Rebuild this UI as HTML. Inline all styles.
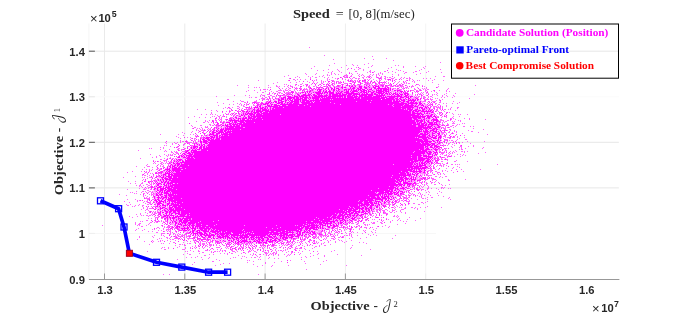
<!DOCTYPE html>
<html><head><meta charset="utf-8"><title>Pareto front</title>
<style>
html,body{margin:0;padding:0;background:#fff}
svg{display:block}
.tk{font-family:"Liberation Sans",sans-serif;font-weight:bold;font-size:11.2px;fill:#262626}
.lg{font-family:"Liberation Serif",serif;font-weight:bold;font-size:11.3px}
.lb{font-family:"Liberation Serif",serif;font-weight:bold;font-size:13.2px;fill:#262626}
.cal{font-family:"DejaVu Math TeX Gyre","DejaVu Serif",serif;font-weight:normal}
.rm{font-weight:normal}
</style></head><body>
<svg width="684" height="315" viewBox="0 0 684 315">
<rect width="684" height="315" fill="#fff"/>
<g stroke-width="1"><line x1="104.5" y1="23.5" x2="104.5" y2="279.0" stroke="#eaeaea"/><line x1="184.8" y1="23.5" x2="184.8" y2="279.0" stroke="#eaeaea"/><line x1="265.1" y1="23.5" x2="265.1" y2="279.0" stroke="#ebebeb"/><line x1="345.4" y1="23.5" x2="345.4" y2="279.0" stroke="#eeeeee"/><line x1="425.7" y1="23.5" x2="425.7" y2="279.0" stroke="#f4f4f4"/><line x1="88.9" y1="233.4" x2="436" y2="233.4" stroke="#f7f7f7"/><line x1="88.9" y1="187.9" x2="618.9" y2="187.9" stroke="#e7e7e7"/><line x1="88.9" y1="142.3" x2="618.9" y2="142.3" stroke="#e7e7e7"/><line x1="88.9" y1="96.8" x2="618.9" y2="96.8" stroke="#fbfbfb"/><line x1="88.9" y1="51.2" x2="618.9" y2="51.2" stroke="#e7e7e7"/></g>
<line x1="88.9" y1="23.5" x2="88.9" y2="279.0" stroke="#f5f5f5" stroke-width="1"/>
<polygon points="153.7,197.6 153.5,194.7 153.7,191.8 154.1,188.9 154.8,186.1 155.8,183.4 156.9,180.8 158.3,178.3 159.8,175.8 161.4,173.5 163.2,171.2 165.1,169.0 167.2,166.9 169.3,164.8 171.5,162.7 173.9,160.7 176.3,158.6 178.7,156.6 181.3,154.5 183.9,152.5 186.6,150.4 189.4,148.3 192.2,146.1 195.1,143.9 198.1,141.6 201.1,139.3 204.3,137.0 207.5,134.6 210.8,132.2 214.2,129.7 217.8,127.3 221.4,124.9 225.1,122.5 228.9,120.2 232.9,117.9 236.9,115.6 241.0,113.5 245.3,111.3 249.6,109.3 253.9,107.3 258.4,105.5 262.9,103.6 267.5,101.9 272.1,100.3 276.7,98.8 281.4,97.3 286.2,96.0 290.9,94.7 295.7,93.6 300.5,92.5 305.2,91.5 310.0,90.6 314.8,89.8 319.5,89.0 324.2,88.3 328.9,87.7 333.6,87.1 338.2,86.6 342.8,86.1 347.3,85.8 351.8,85.4 356.3,85.2 360.7,85.1 365.0,85.0 369.3,85.1 373.5,85.3 377.6,85.6 381.7,86.0 385.7,86.6 389.5,87.3 393.3,88.2 396.9,89.2 400.4,90.3 403.8,91.5 407.1,92.8 410.2,94.2 413.2,95.7 416.1,97.3 418.8,99.0 421.4,100.7 423.8,102.5 426.2,104.4 428.3,106.4 430.4,108.4 432.3,110.6 434.0,112.8 435.5,115.1 436.9,117.5 438.2,119.9 439.2,122.5 440.0,125.1 440.7,127.7 441.1,130.5 441.4,133.2 441.4,136.0 441.2,138.8 440.9,141.7 440.3,144.5 439.6,147.4 438.7,150.3 437.6,153.1 436.4,156.0 434.9,158.8 433.3,161.6 431.6,164.5 429.6,167.3 427.5,170.1 425.3,172.8 422.9,175.6 420.4,178.3 417.7,181.0 414.8,183.6 411.8,186.2 408.7,188.8 405.5,191.3 402.1,193.7 398.6,196.2 395.0,198.5 391.2,200.9 387.4,203.2 383.5,205.4 379.5,207.6 375.4,209.8 371.2,211.9 367.0,214.0 362.6,216.0 358.2,218.0 353.8,220.0 349.2,221.9 344.7,223.8 340.0,225.6 335.3,227.3 330.6,229.0 325.8,230.6 321.0,232.1 316.2,233.6 311.3,235.0 306.4,236.3 301.5,237.5 296.6,238.6 291.6,239.6 286.7,240.5 281.8,241.3 276.9,242.0 272.0,242.6 267.1,243.1 262.3,243.4 257.5,243.7 252.7,243.8 248.0,243.8 243.4,243.6 238.8,243.4 234.3,243.1 229.9,242.7 225.5,242.1 221.3,241.5 217.1,240.9 213.0,240.1 209.0,239.3 205.1,238.4 201.3,237.4 197.6,236.3 194.0,235.2 190.6,234.0 187.2,232.7 183.9,231.3 180.8,229.8 177.7,228.2 174.8,226.5 172.1,224.8 169.4,222.9 166.9,220.9 164.6,218.7 162.4,216.5 160.5,214.1 158.7,211.6 157.2,209.0 155.9,206.3 154.9,203.4 154.1,200.6" fill="#ff00ff"/>
<g transform="translate(0.5,0.5)" stroke-linecap="round" fill="none">
<path d="M347 85h0M352 85h0M353 85h0M355 85h0M356 85h0M357 85h0M358 85h0M360 85h0M361 85h0M364 85h0M367 85h0M370 85h0M373 85h0M377 85h0M337 86h0M340 86h0M341 86h0M345 86h0M350 86h0M353 86h0M354 86h0M358 86h0M362 86h0M365 86h0M366 86h0M367 86h0M369 86h0M370 86h0M372 86h0M379 86h0M380 86h0M381 86h0M329 87h0M331 87h0M335 87h0M336 87h0M337 87h0M338 87h0M339 87h0M340 87h0M343 87h0M346 87h0M351 87h0M352 87h0M355 87h0M356 87h0M357 87h0M358 87h0M363 87h0M367 87h0M368 87h0M370 87h0M371 87h0M372 87h0M382 87h0M384 87h0M389 87h0M391 87h0M320 88h0M340 88h0M341 88h0M345 88h0M346 88h0M347 88h0M348 88h0M349 88h0M351 88h0M355 88h0M359 88h0M362 88h0M364 88h0M367 88h0M368 88h0M369 88h0M370 88h0M376 88h0M387 88h0M389 88h0M392 88h0M316 89h0M322 89h0M323 89h0M324 89h0M329 89h0M332 89h0M335 89h0M336 89h0M340 89h0M341 89h0M342 89h0M343 89h0M347 89h0M350 89h0M352 89h0M354 89h0M357 89h0M361 89h0M368 89h0M373 89h0M374 89h0M375 89h0M377 89h0M379 89h0M382 89h0M389 89h0M393 89h0M396 89h0M313 90h0M321 90h0M324 90h0M325 90h0M330 90h0M331 90h0M332 90h0M337 90h0M339 90h0M340 90h0M341 90h0M342 90h0M343 90h0M345 90h0M347 90h0M350 90h0M352 90h0M357 90h0M362 90h0M369 90h0M370 90h0M371 90h0M373 90h0M374 90h0M382 90h0M387 90h0M389 90h0M392 90h0M396 90h0M305 91h0M308 91h0M311 91h0M312 91h0M313 91h0M314 91h0M315 91h0M316 91h0M317 91h0M321 91h0M322 91h0M324 91h0M332 91h0M334 91h0M335 91h0M336 91h0M338 91h0M340 91h0M343 91h0M344 91h0M345 91h0M351 91h0M359 91h0M360 91h0M367 91h0M371 91h0M372 91h0M375 91h0M377 91h0M384 91h0M389 91h0M391 91h0M392 91h0M393 91h0M394 91h0M395 91h0M398 91h0M399 91h0M404 91h0M304 92h0M310 92h0M311 92h0M312 92h0M314 92h0M323 92h0M328 92h0M335 92h0M337 92h0M339 92h0M342 92h0M343 92h0M349 92h0M350 92h0M354 92h0M356 92h0M357 92h0M359 92h0M362 92h0M367 92h0M370 92h0M374 92h0M375 92h0M382 92h0M385 92h0M389 92h0M391 92h0M393 92h0M396 92h0M397 92h0M398 92h0M399 92h0M400 92h0M404 92h0M297 93h0M298 93h0M299 93h0M302 93h0M306 93h0M309 93h0M310 93h0M314 93h0M315 93h0M323 93h0M325 93h0M326 93h0M334 93h0M335 93h0M341 93h0M343 93h0M344 93h0M345 93h0M358 93h0M360 93h0M361 93h0M363 93h0M369 93h0M370 93h0M373 93h0M376 93h0M377 93h0M388 93h0M396 93h0M400 93h0M401 93h0M402 93h0M403 93h0M292 94h0M295 94h0M299 94h0M302 94h0M306 94h0M307 94h0M312 94h0M315 94h0M316 94h0M320 94h0M323 94h0M324 94h0M325 94h0M327 94h0M328 94h0M331 94h0M338 94h0M341 94h0M347 94h0M352 94h0M360 94h0M373 94h0M378 94h0M383 94h0M385 94h0M386 94h0M388 94h0M410 94h0M295 95h0M296 95h0M297 95h0M310 95h0M317 95h0M323 95h0M328 95h0M331 95h0M346 95h0M351 95h0M355 95h0M367 95h0M373 95h0M375 95h0M385 95h0M386 95h0M387 95h0M388 95h0M389 95h0M392 95h0M393 95h0M395 95h0M396 95h0M400 95h0M402 95h0M403 95h0M408 95h0M409 95h0M411 95h0M412 95h0M291 96h0M292 96h0M293 96h0M298 96h0M304 96h0M307 96h0M308 96h0M310 96h0M311 96h0M313 96h0M327 96h0M343 96h0M346 96h0M353 96h0M358 96h0M363 96h0M372 96h0M382 96h0M386 96h0M402 96h0M403 96h0M407 96h0M409 96h0M282 97h0M295 97h0M299 97h0M301 97h0M308 97h0M311 97h0M320 97h0M323 97h0M325 97h0M331 97h0M336 97h0M338 97h0M341 97h0M343 97h0M357 97h0M360 97h0M380 97h0M387 97h0M388 97h0M395 97h0M396 97h0M398 97h0M404 97h0M405 97h0M411 97h0M413 97h0M414 97h0M279 98h0M280 98h0M284 98h0M292 98h0M295 98h0M299 98h0M307 98h0M309 98h0M311 98h0M319 98h0M321 98h0M354 98h0M360 98h0M394 98h0M401 98h0M402 98h0M403 98h0M410 98h0M411 98h0M412 98h0M413 98h0M414 98h0M415 98h0M276 99h0M277 99h0M280 99h0M284 99h0M286 99h0M288 99h0M293 99h0M301 99h0M308 99h0M310 99h0M311 99h0M312 99h0M314 99h0M319 99h0M330 99h0M332 99h0M395 99h0M399 99h0M402 99h0M405 99h0M407 99h0M409 99h0M411 99h0M414 99h0M419 99h0M271 100h0M274 100h0M275 100h0M284 100h0M287 100h0M299 100h0M301 100h0M309 100h0M367 100h0M371 100h0M392 100h0M395 100h0M398 100h0M405 100h0M407 100h0M418 100h0M420 100h0M279 101h0M280 101h0M284 101h0M286 101h0M290 101h0M299 101h0M301 101h0M305 101h0M312 101h0M314 101h0M320 101h0M356 101h0M392 101h0M401 101h0M402 101h0M405 101h0M409 101h0M410 101h0M412 101h0M416 101h0M418 101h0M419 101h0M421 101h0M267 102h0M270 102h0M272 102h0M286 102h0M289 102h0M293 102h0M299 102h0M300 102h0M310 102h0M330 102h0M370 102h0M399 102h0M400 102h0M404 102h0M405 102h0M406 102h0M409 102h0M414 102h0M417 102h0M418 102h0M422 102h0M264 103h0M271 103h0M272 103h0M276 103h0M280 103h0M283 103h0M285 103h0M286 103h0M288 103h0M292 103h0M299 103h0M301 103h0M334 103h0M407 103h0M423 103h0M260 104h0M262 104h0M266 104h0M268 104h0M269 104h0M270 104h0M273 104h0M278 104h0M307 104h0M340 104h0M388 104h0M393 104h0M404 104h0M410 104h0M413 104h0M414 104h0M415 104h0M418 104h0M421 104h0M424 104h0M425 104h0M258 105h0M259 105h0M261 105h0M262 105h0M265 105h0M270 105h0M273 105h0M280 105h0M286 105h0M287 105h0M298 105h0M304 105h0M392 105h0M403 105h0M414 105h0M416 105h0M417 105h0M419 105h0M420 105h0M425 105h0M426 105h0M255 106h0M256 106h0M262 106h0M264 106h0M267 106h0M278 106h0M310 106h0M393 106h0M401 106h0M413 106h0M418 106h0M420 106h0M421 106h0M424 106h0M426 106h0M428 106h0M258 107h0M259 107h0M261 107h0M264 107h0M266 107h0M269 107h0M271 107h0M272 107h0M283 107h0M414 107h0M415 107h0M416 107h0M418 107h0M424 107h0M427 107h0M429 107h0M252 108h0M256 108h0M257 108h0M259 108h0M263 108h0M266 108h0M269 108h0M271 108h0M274 108h0M401 108h0M406 108h0M411 108h0M413 108h0M414 108h0M415 108h0M416 108h0M423 108h0M425 108h0M427 108h0M428 108h0M250 109h0M251 109h0M252 109h0M255 109h0M256 109h0M259 109h0M261 109h0M267 109h0M269 109h0M271 109h0M404 109h0M406 109h0M414 109h0M418 109h0M419 109h0M420 109h0M425 109h0M426 109h0M427 109h0M428 109h0M430 109h0M431 109h0M246 110h0M248 110h0M249 110h0M250 110h0M251 110h0M253 110h0M255 110h0M261 110h0M269 110h0M408 110h0M412 110h0M417 110h0M421 110h0M424 110h0M425 110h0M429 110h0M245 111h0M248 111h0M250 111h0M253 111h0M263 111h0M264 111h0M411 111h0M414 111h0M419 111h0M420 111h0M431 111h0M244 112h0M245 112h0M247 112h0M250 112h0M252 112h0M259 112h0M268 112h0M411 112h0M415 112h0M416 112h0M418 112h0M419 112h0M421 112h0M422 112h0M423 112h0M426 112h0M428 112h0M429 112h0M430 112h0M241 113h0M242 113h0M244 113h0M246 113h0M253 113h0M256 113h0M260 113h0M411 113h0M422 113h0M425 113h0M428 113h0M430 113h0M431 113h0M433 113h0M434 113h0M242 114h0M244 114h0M262 114h0M280 114h0M415 114h0M416 114h0M420 114h0M425 114h0M427 114h0M428 114h0M429 114h0M430 114h0M433 114h0M434 114h0M238 115h0M239 115h0M240 115h0M243 115h0M245 115h0M246 115h0M249 115h0M252 115h0M255 115h0M419 115h0M423 115h0M424 115h0M425 115h0M429 115h0M432 115h0M235 116h0M236 116h0M238 116h0M243 116h0M245 116h0M247 116h0M250 116h0M411 116h0M233 117h0M234 117h0M238 117h0M240 117h0M241 117h0M242 117h0M244 117h0M252 117h0M256 117h0M261 117h0M421 117h0M426 117h0M430 117h0M431 117h0M232 118h0M235 118h0M237 118h0M241 118h0M247 118h0M255 118h0M412 118h0M417 118h0M421 118h0M422 118h0M423 118h0M425 118h0M427 118h0M430 118h0M434 118h0M435 118h0M232 119h0M233 119h0M235 119h0M237 119h0M241 119h0M246 119h0M249 119h0M251 119h0M262 119h0M412 119h0M413 119h0M418 119h0M419 119h0M420 119h0M422 119h0M425 119h0M426 119h0M427 119h0M428 119h0M429 119h0M431 119h0M239 120h0M415 120h0M423 120h0M427 120h0M429 120h0M432 120h0M227 121h0M228 121h0M229 121h0M231 121h0M237 121h0M244 121h0M415 121h0M419 121h0M423 121h0M425 121h0M429 121h0M431 121h0M432 121h0M225 122h0M231 122h0M233 122h0M237 122h0M239 122h0M245 122h0M254 122h0M416 122h0M418 122h0M423 122h0M426 122h0M427 122h0M433 122h0M437 122h0M438 122h0M225 123h0M232 123h0M234 123h0M236 123h0M242 123h0M416 123h0M420 123h0M425 123h0M427 123h0M433 123h0M435 123h0M437 123h0M438 123h0M222 124h0M223 124h0M228 124h0M231 124h0M238 124h0M412 124h0M420 124h0M424 124h0M427 124h0M438 124h0M224 125h0M228 125h0M229 125h0M235 125h0M240 125h0M416 125h0M417 125h0M427 125h0M429 125h0M430 125h0M433 125h0M434 125h0M435 125h0M436 125h0M439 125h0M219 126h0M224 126h0M225 126h0M240 126h0M416 126h0M417 126h0M424 126h0M432 126h0M433 126h0M435 126h0M436 126h0M437 126h0M218 127h0M220 127h0M221 127h0M223 127h0M224 127h0M226 127h0M228 127h0M234 127h0M243 127h0M244 127h0M434 127h0M436 127h0M440 127h0M217 128h0M219 128h0M222 128h0M224 128h0M422 128h0M428 128h0M432 128h0M438 128h0M439 128h0M218 129h0M224 129h0M240 129h0M423 129h0M424 129h0M427 129h0M430 129h0M431 129h0M435 129h0M438 129h0M439 129h0M440 129h0M213 130h0M215 130h0M217 130h0M219 130h0M223 130h0M227 130h0M229 130h0M231 130h0M420 130h0M424 130h0M429 130h0M434 130h0M435 130h0M439 130h0M214 131h0M218 131h0M223 131h0M226 131h0M422 131h0M429 131h0M431 131h0M432 131h0M437 131h0M440 131h0M211 132h0M216 132h0M217 132h0M231 132h0M420 132h0M421 132h0M422 132h0M423 132h0M428 132h0M430 132h0M431 132h0M433 132h0M434 132h0M438 132h0M208 133h0M209 133h0M211 133h0M214 133h0M222 133h0M228 133h0M423 133h0M426 133h0M429 133h0M430 133h0M431 133h0M435 133h0M214 134h0M215 134h0M218 134h0M219 134h0M418 134h0M430 134h0M431 134h0M433 134h0M435 134h0M436 134h0M207 135h0M208 135h0M210 135h0M211 135h0M212 135h0M221 135h0M223 135h0M228 135h0M420 135h0M421 135h0M426 135h0M427 135h0M430 135h0M431 135h0M437 135h0M439 135h0M204 136h0M205 136h0M206 136h0M207 136h0M213 136h0M215 136h0M218 136h0M220 136h0M426 136h0M428 136h0M431 136h0M434 136h0M438 136h0M205 137h0M210 137h0M215 137h0M218 137h0M415 137h0M429 137h0M430 137h0M436 137h0M202 138h0M204 138h0M209 138h0M212 138h0M214 138h0M215 138h0M220 138h0M419 138h0M420 138h0M421 138h0M431 138h0M439 138h0M206 139h0M210 139h0M214 139h0M220 139h0M422 139h0M428 139h0M429 139h0M430 139h0M432 139h0M435 139h0M437 139h0M439 139h0M440 139h0M199 140h0M207 140h0M423 140h0M428 140h0M429 140h0M430 140h0M434 140h0M435 140h0M199 141h0M202 141h0M208 141h0M209 141h0M416 141h0M435 141h0M438 141h0M440 141h0M197 142h0M202 142h0M207 142h0M420 142h0M424 142h0M428 142h0M431 142h0M434 142h0M436 142h0M438 142h0M195 143h0M197 143h0M198 143h0M200 143h0M204 143h0M421 143h0M429 143h0M430 143h0M435 143h0M436 143h0M196 144h0M198 144h0M200 144h0M202 144h0M206 144h0M207 144h0M431 144h0M436 144h0M438 144h0M439 144h0M193 145h0M195 145h0M196 145h0M197 145h0M198 145h0M200 145h0M205 145h0M206 145h0M426 145h0M430 145h0M433 145h0M437 145h0M438 145h0M191 146h0M192 146h0M202 146h0M205 146h0M207 146h0M428 146h0M432 146h0M192 147h0M196 147h0M202 147h0M205 147h0M424 147h0M426 147h0M428 147h0M429 147h0M433 147h0M435 147h0M438 147h0M439 147h0M190 148h0M192 148h0M195 148h0M424 148h0M425 148h0M432 148h0M434 148h0M436 148h0M190 149h0M193 149h0M194 149h0M196 149h0M200 149h0M419 149h0M424 149h0M430 149h0M432 149h0M433 149h0M438 149h0M186 150h0M189 150h0M198 150h0M199 150h0M200 150h0M207 150h0M421 150h0M427 150h0M428 150h0M429 150h0M430 150h0M431 150h0M432 150h0M437 150h0M188 151h0M190 151h0M192 151h0M414 151h0M427 151h0M431 151h0M432 151h0M434 151h0M184 152h0M190 152h0M413 152h0M425 152h0M428 152h0M433 152h0M185 153h0M186 153h0M191 153h0M193 153h0M425 153h0M426 153h0M431 153h0M434 153h0M181 154h0M186 154h0M188 154h0M193 154h0M421 154h0M422 154h0M424 154h0M425 154h0M426 154h0M427 154h0M431 154h0M434 154h0M182 155h0M184 155h0M185 155h0M192 155h0M411 155h0M422 155h0M429 155h0M433 155h0M435 155h0M183 156h0M187 156h0M417 156h0M421 156h0M434 156h0M181 157h0M182 157h0M186 157h0M190 157h0M193 157h0M411 157h0M417 157h0M423 157h0M424 157h0M425 157h0M427 157h0M432 157h0M433 157h0M434 157h0M176 158h0M180 158h0M182 158h0M183 158h0M184 158h0M185 158h0M194 158h0M417 158h0M429 158h0M435 158h0M174 159h0M177 159h0M182 159h0M184 159h0M417 159h0M425 159h0M426 159h0M433 159h0M434 159h0M175 160h0M176 160h0M178 160h0M181 160h0M183 160h0M413 160h0M424 160h0M425 160h0M429 160h0M433 160h0M434 160h0M173 161h0M175 161h0M177 161h0M179 161h0M180 161h0M184 161h0M410 161h0M418 161h0M419 161h0M421 161h0M423 161h0M424 161h0M431 161h0M432 161h0M172 162h0M175 162h0M176 162h0M178 162h0M179 162h0M414 162h0M416 162h0M417 162h0M418 162h0M420 162h0M423 162h0M426 162h0M429 162h0M430 162h0M175 163h0M180 163h0M182 163h0M183 163h0M413 163h0M415 163h0M418 163h0M420 163h0M425 163h0M427 163h0M428 163h0M170 164h0M172 164h0M173 164h0M174 164h0M176 164h0M180 164h0M393 164h0M413 164h0M416 164h0M418 164h0M421 164h0M426 164h0M427 164h0M428 164h0M429 164h0M430 164h0M171 165h0M173 165h0M176 165h0M179 165h0M188 165h0M412 165h0M414 165h0M415 165h0M418 165h0M427 165h0M428 165h0M429 165h0M168 166h0M175 166h0M176 166h0M178 166h0M422 166h0M424 166h0M427 166h0M428 166h0M166 167h0M169 167h0M171 167h0M173 167h0M180 167h0M181 167h0M413 167h0M419 167h0M421 167h0M166 168h0M168 168h0M170 168h0M171 168h0M185 168h0M407 168h0M410 168h0M426 168h0M427 168h0M170 169h0M171 169h0M181 169h0M182 169h0M413 169h0M415 169h0M417 169h0M420 169h0M422 169h0M423 169h0M426 169h0M165 170h0M166 170h0M168 170h0M171 170h0M412 170h0M418 170h0M421 170h0M422 170h0M423 170h0M163 171h0M164 171h0M167 171h0M172 171h0M174 171h0M180 171h0M401 171h0M409 171h0M422 171h0M423 171h0M162 172h0M163 172h0M166 172h0M168 172h0M171 172h0M173 172h0M174 172h0M175 172h0M405 172h0M409 172h0M410 172h0M412 172h0M415 172h0M417 172h0M421 172h0M422 172h0M163 173h0M164 173h0M172 173h0M399 173h0M406 173h0M409 173h0M416 173h0M420 173h0M421 173h0M422 173h0M423 173h0M161 174h0M162 174h0M166 174h0M173 174h0M406 174h0M411 174h0M420 174h0M422 174h0M162 175h0M164 175h0M166 175h0M392 175h0M411 175h0M415 175h0M417 175h0M418 175h0M421 175h0M422 175h0M162 176h0M164 176h0M165 176h0M172 176h0M400 176h0M402 176h0M408 176h0M410 176h0M412 176h0M417 176h0M159 177h0M160 177h0M164 177h0M166 177h0M177 177h0M391 177h0M404 177h0M408 177h0M409 177h0M410 177h0M412 177h0M414 177h0M416 177h0M417 177h0M418 177h0M419 177h0M420 177h0M161 178h0M168 178h0M399 178h0M403 178h0M409 178h0M416 178h0M417 178h0M419 178h0M157 179h0M161 179h0M171 179h0M395 179h0M408 179h0M410 179h0M416 179h0M417 179h0M418 179h0M157 180h0M159 180h0M161 180h0M162 180h0M164 180h0M165 180h0M167 180h0M168 180h0M396 180h0M400 180h0M404 180h0M406 180h0M407 180h0M408 180h0M409 180h0M410 180h0M412 180h0M413 180h0M415 180h0M159 181h0M160 181h0M162 181h0M164 181h0M167 181h0M169 181h0M170 181h0M398 181h0M404 181h0M406 181h0M407 181h0M410 181h0M412 181h0M413 181h0M414 181h0M415 181h0M159 182h0M163 182h0M166 182h0M169 182h0M395 182h0M399 182h0M408 182h0M409 182h0M410 182h0M411 182h0M412 182h0M155 183h0M157 183h0M161 183h0M163 183h0M165 183h0M166 183h0M174 183h0M177 183h0M401 183h0M412 183h0M155 184h0M156 184h0M159 184h0M160 184h0M167 184h0M169 184h0M171 184h0M403 184h0M405 184h0M411 184h0M155 185h0M156 185h0M160 185h0M167 185h0M169 185h0M398 185h0M408 185h0M410 185h0M411 185h0M155 186h0M158 186h0M164 186h0M165 186h0M167 186h0M173 186h0M389 186h0M394 186h0M395 186h0M397 186h0M399 186h0M402 186h0M403 186h0M404 186h0M406 186h0M407 186h0M411 186h0M155 187h0M161 187h0M162 187h0M170 187h0M398 187h0M400 187h0M401 187h0M404 187h0M408 187h0M410 187h0M156 188h0M158 188h0M172 188h0M378 188h0M394 188h0M398 188h0M399 188h0M406 188h0M409 188h0M155 189h0M156 189h0M158 189h0M159 189h0M167 189h0M176 189h0M388 189h0M393 189h0M394 189h0M396 189h0M399 189h0M400 189h0M401 189h0M402 189h0M404 189h0M154 190h0M155 190h0M159 190h0M163 190h0M166 190h0M371 190h0M390 190h0M396 190h0M397 190h0M398 190h0M400 190h0M401 190h0M403 190h0M154 191h0M155 191h0M161 191h0M165 191h0M170 191h0M393 191h0M394 191h0M399 191h0M155 192h0M158 192h0M160 192h0M163 192h0M168 192h0M169 192h0M171 192h0M375 192h0M378 192h0M392 192h0M396 192h0M400 192h0M401 192h0M154 193h0M155 193h0M157 193h0M159 193h0M160 193h0M163 193h0M169 193h0M171 193h0M376 193h0M377 193h0M384 193h0M386 193h0M393 193h0M395 193h0M398 193h0M402 193h0M154 194h0M155 194h0M164 194h0M165 194h0M167 194h0M174 194h0M176 194h0M381 194h0M383 194h0M387 194h0M392 194h0M397 194h0M155 195h0M159 195h0M161 195h0M162 195h0M167 195h0M368 195h0M379 195h0M383 195h0M385 195h0M387 195h0M389 195h0M390 195h0M391 195h0M392 195h0M393 195h0M155 196h0M163 196h0M164 196h0M167 196h0M168 196h0M172 196h0M375 196h0M376 196h0M379 196h0M380 196h0M383 196h0M389 196h0M391 196h0M393 196h0M395 196h0M155 197h0M156 197h0M160 197h0M162 197h0M167 197h0M169 197h0M370 197h0M376 197h0M389 197h0M394 197h0M396 197h0M153 198h0M155 198h0M157 198h0M159 198h0M161 198h0M164 198h0M165 198h0M181 198h0M381 198h0M387 198h0M391 198h0M392 198h0M394 198h0M154 199h0M156 199h0M159 199h0M161 199h0M163 199h0M166 199h0M173 199h0M366 199h0M373 199h0M374 199h0M383 199h0M384 199h0M392 199h0M393 199h0M160 200h0M167 200h0M359 200h0M374 200h0M376 200h0M377 200h0M379 200h0M380 200h0M389 200h0M154 201h0M155 201h0M164 201h0M168 201h0M170 201h0M176 201h0M358 201h0M363 201h0M368 201h0M372 201h0M373 201h0M374 201h0M380 201h0M381 201h0M387 201h0M388 201h0M157 202h0M164 202h0M166 202h0M168 202h0M171 202h0M173 202h0M182 202h0M362 202h0M363 202h0M373 202h0M375 202h0M379 202h0M381 202h0M383 202h0M387 202h0M155 203h0M156 203h0M162 203h0M163 203h0M165 203h0M166 203h0M170 203h0M174 203h0M176 203h0M363 203h0M373 203h0M377 203h0M382 203h0M383 203h0M385 203h0M386 203h0M387 203h0M165 204h0M166 204h0M169 204h0M170 204h0M179 204h0M358 204h0M360 204h0M375 204h0M376 204h0M377 204h0M382 204h0M383 204h0M384 204h0M158 205h0M159 205h0M166 205h0M172 205h0M358 205h0M365 205h0M369 205h0M374 205h0M376 205h0M378 205h0M382 205h0M158 206h0M160 206h0M161 206h0M162 206h0M163 206h0M164 206h0M167 206h0M170 206h0M177 206h0M349 206h0M360 206h0M362 206h0M363 206h0M366 206h0M369 206h0M372 206h0M374 206h0M375 206h0M378 206h0M379 206h0M156 207h0M157 207h0M158 207h0M159 207h0M165 207h0M167 207h0M168 207h0M181 207h0M350 207h0M353 207h0M360 207h0M361 207h0M364 207h0M367 207h0M368 207h0M372 207h0M373 207h0M374 207h0M159 208h0M163 208h0M164 208h0M167 208h0M168 208h0M172 208h0M174 208h0M348 208h0M354 208h0M364 208h0M369 208h0M372 208h0M373 208h0M377 208h0M159 209h0M163 209h0M165 209h0M166 209h0M168 209h0M174 209h0M184 209h0M339 209h0M352 209h0M360 209h0M363 209h0M364 209h0M367 209h0M372 209h0M375 209h0M159 210h0M160 210h0M163 210h0M166 210h0M167 210h0M169 210h0M343 210h0M356 210h0M358 210h0M360 210h0M364 210h0M365 210h0M367 210h0M372 210h0M373 210h0M161 211h0M162 211h0M164 211h0M168 211h0M172 211h0M176 211h0M180 211h0M345 211h0M351 211h0M352 211h0M360 211h0M361 211h0M365 211h0M368 211h0M370 211h0M159 212h0M165 212h0M168 212h0M171 212h0M172 212h0M176 212h0M177 212h0M180 212h0M347 212h0M350 212h0M357 212h0M360 212h0M369 212h0M162 213h0M167 213h0M170 213h0M173 213h0M174 213h0M180 213h0M189 213h0M335 213h0M338 213h0M341 213h0M344 213h0M347 213h0M353 213h0M358 213h0M361 213h0M363 213h0M368 213h0M164 214h0M168 214h0M170 214h0M176 214h0M186 214h0M337 214h0M338 214h0M343 214h0M351 214h0M352 214h0M353 214h0M355 214h0M356 214h0M360 214h0M163 215h0M169 215h0M174 215h0M175 215h0M176 215h0M179 215h0M185 215h0M186 215h0M189 215h0M332 215h0M337 215h0M345 215h0M348 215h0M351 215h0M355 215h0M358 215h0M362 215h0M363 215h0M166 216h0M168 216h0M171 216h0M331 216h0M336 216h0M341 216h0M344 216h0M349 216h0M351 216h0M352 216h0M354 216h0M355 216h0M357 216h0M358 216h0M360 216h0M163 217h0M164 217h0M165 217h0M168 217h0M171 217h0M177 217h0M179 217h0M180 217h0M181 217h0M182 217h0M185 217h0M316 217h0M327 217h0M330 217h0M340 217h0M341 217h0M344 217h0M350 217h0M351 217h0M356 217h0M357 217h0M358 217h0M164 218h0M166 218h0M168 218h0M169 218h0M171 218h0M175 218h0M176 218h0M177 218h0M181 218h0M191 218h0M318 218h0M332 218h0M336 218h0M346 218h0M348 218h0M350 218h0M356 218h0M165 219h0M168 219h0M174 219h0M175 219h0M177 219h0M179 219h0M188 219h0M191 219h0M314 219h0M323 219h0M332 219h0M334 219h0M335 219h0M337 219h0M338 219h0M340 219h0M341 219h0M345 219h0M346 219h0M347 219h0M350 219h0M166 220h0M170 220h0M174 220h0M175 220h0M177 220h0M178 220h0M182 220h0M218 220h0M319 220h0M330 220h0M331 220h0M332 220h0M334 220h0M338 220h0M339 220h0M343 220h0M346 220h0M348 220h0M349 220h0M170 221h0M173 221h0M176 221h0M177 221h0M178 221h0M182 221h0M188 221h0M189 221h0M200 221h0M213 221h0M306 221h0M311 221h0M312 221h0M321 221h0M335 221h0M336 221h0M339 221h0M341 221h0M342 221h0M346 221h0M347 221h0M350 221h0M168 222h0M169 222h0M173 222h0M174 222h0M177 222h0M178 222h0M187 222h0M198 222h0M325 222h0M328 222h0M329 222h0M332 222h0M336 222h0M337 222h0M339 222h0M344 222h0M346 222h0M347 222h0M170 223h0M171 223h0M172 223h0M173 223h0M177 223h0M179 223h0M181 223h0M183 223h0M186 223h0M187 223h0M195 223h0M306 223h0M314 223h0M316 223h0M318 223h0M322 223h0M332 223h0M333 223h0M334 223h0M336 223h0M337 223h0M339 223h0M344 223h0M172 224h0M174 224h0M177 224h0M182 224h0M183 224h0M184 224h0M186 224h0M188 224h0M191 224h0M194 224h0M195 224h0M201 224h0M216 224h0M303 224h0M308 224h0M310 224h0M315 224h0M317 224h0M318 224h0M323 224h0M324 224h0M326 224h0M328 224h0M329 224h0M332 224h0M334 224h0M340 224h0M341 224h0M172 225h0M173 225h0M174 225h0M176 225h0M180 225h0M182 225h0M187 225h0M190 225h0M195 225h0M206 225h0M207 225h0M214 225h0M244 225h0M276 225h0M295 225h0M297 225h0M305 225h0M306 225h0M321 225h0M332 225h0M335 225h0M338 225h0M180 226h0M181 226h0M182 226h0M184 226h0M185 226h0M190 226h0M191 226h0M201 226h0M302 226h0M310 226h0M315 226h0M323 226h0M325 226h0M326 226h0M330 226h0M332 226h0M176 227h0M178 227h0M180 227h0M181 227h0M182 227h0M183 227h0M185 227h0M186 227h0M189 227h0M194 227h0M196 227h0M198 227h0M205 227h0M209 227h0M266 227h0M280 227h0M304 227h0M309 227h0M319 227h0M321 227h0M323 227h0M324 227h0M327 227h0M330 227h0M331 227h0M335 227h0M179 228h0M180 228h0M190 228h0M196 228h0M198 228h0M211 228h0M272 228h0M277 228h0M303 228h0M304 228h0M315 228h0M319 228h0M321 228h0M324 228h0M327 228h0M328 228h0M329 228h0M180 229h0M181 229h0M183 229h0M185 229h0M188 229h0M190 229h0M198 229h0M199 229h0M203 229h0M207 229h0M210 229h0M212 229h0M215 229h0M243 229h0M297 229h0M302 229h0M303 229h0M304 229h0M321 229h0M322 229h0M324 229h0M325 229h0M187 230h0M189 230h0M190 230h0M195 230h0M196 230h0M200 230h0M207 230h0M209 230h0M210 230h0M214 230h0M218 230h0M242 230h0M302 230h0M303 230h0M305 230h0M307 230h0M310 230h0M311 230h0M312 230h0M315 230h0M316 230h0M317 230h0M318 230h0M319 230h0M320 230h0M321 230h0M185 231h0M187 231h0M191 231h0M194 231h0M195 231h0M200 231h0M202 231h0M221 231h0M226 231h0M244 231h0M252 231h0M269 231h0M270 231h0M274 231h0M275 231h0M281 231h0M288 231h0M291 231h0M293 231h0M294 231h0M295 231h0M301 231h0M303 231h0M306 231h0M310 231h0M313 231h0M315 231h0M318 231h0M319 231h0M320 231h0M322 231h0M188 232h0M195 232h0M196 232h0M203 232h0M206 232h0M207 232h0M208 232h0M210 232h0M211 232h0M216 232h0M219 232h0M221 232h0M224 232h0M231 232h0M247 232h0M249 232h0M278 232h0M279 232h0M285 232h0M294 232h0M295 232h0M296 232h0M298 232h0M305 232h0M309 232h0M315 232h0M316 232h0M317 232h0M318 232h0M320 232h0M192 233h0M198 233h0M207 233h0M211 233h0M214 233h0M218 233h0M231 233h0M242 233h0M244 233h0M246 233h0M251 233h0M269 233h0M272 233h0M288 233h0M290 233h0M293 233h0M294 233h0M295 233h0M298 233h0M303 233h0M304 233h0M305 233h0M306 233h0M307 233h0M308 233h0M312 233h0M316 233h0M198 234h0M199 234h0M205 234h0M208 234h0M210 234h0M214 234h0M216 234h0M219 234h0M225 234h0M229 234h0M241 234h0M244 234h0M268 234h0M282 234h0M295 234h0M303 234h0M310 234h0M196 235h0M197 235h0M203 235h0M216 235h0M218 235h0M220 235h0M224 235h0M228 235h0M266 235h0M270 235h0M273 235h0M274 235h0M278 235h0M285 235h0M293 235h0M295 235h0M296 235h0M300 235h0M305 235h0M306 235h0M308 235h0M206 236h0M211 236h0M214 236h0M215 236h0M216 236h0M221 236h0M230 236h0M232 236h0M235 236h0M236 236h0M238 236h0M239 236h0M243 236h0M249 236h0M257 236h0M259 236h0M265 236h0M266 236h0M267 236h0M276 236h0M278 236h0M279 236h0M282 236h0M285 236h0M287 236h0M289 236h0M290 236h0M294 236h0M299 236h0M301 236h0M302 236h0M305 236h0M201 237h0M205 237h0M206 237h0M207 237h0M212 237h0M215 237h0M217 237h0M224 237h0M226 237h0M230 237h0M233 237h0M238 237h0M254 237h0M268 237h0M273 237h0M275 237h0M277 237h0M278 237h0M279 237h0M281 237h0M288 237h0M296 237h0M297 237h0M205 238h0M218 238h0M219 238h0M221 238h0M224 238h0M228 238h0M231 238h0M234 238h0M235 238h0M239 238h0M241 238h0M247 238h0M250 238h0M252 238h0M257 238h0M260 238h0M264 238h0M265 238h0M266 238h0M270 238h0M271 238h0M274 238h0M278 238h0M279 238h0M281 238h0M284 238h0M289 238h0M290 238h0M292 238h0M296 238h0M208 239h0M212 239h0M214 239h0M218 239h0M219 239h0M221 239h0M224 239h0M229 239h0M230 239h0M231 239h0M235 239h0M237 239h0M239 239h0M242 239h0M243 239h0M245 239h0M247 239h0M248 239h0M250 239h0M254 239h0M256 239h0M257 239h0M261 239h0M264 239h0M265 239h0M266 239h0M269 239h0M276 239h0M277 239h0M280 239h0M281 239h0M282 239h0M286 239h0M290 239h0M213 240h0M214 240h0M216 240h0M217 240h0M219 240h0M222 240h0M224 240h0M225 240h0M230 240h0M234 240h0M236 240h0M241 240h0M247 240h0M249 240h0M250 240h0M252 240h0M253 240h0M255 240h0M258 240h0M260 240h0M264 240h0M265 240h0M268 240h0M269 240h0M271 240h0M278 240h0M281 240h0M282 240h0M284 240h0M288 240h0M221 241h0M223 241h0M228 241h0M229 241h0M233 241h0M236 241h0M240 241h0M248 241h0M251 241h0M256 241h0M260 241h0M261 241h0M263 241h0M264 241h0M265 241h0M267 241h0M273 241h0M274 241h0M280 241h0M228 242h0M239 242h0M242 242h0M243 242h0M245 242h0M246 242h0M247 242h0M249 242h0M251 242h0M257 242h0M262 242h0M272 242h0M273 242h0M274 242h0M235 243h0M237 243h0M240 243h0M245 243h0M247 243h0M248 243h0M250 243h0M253 243h0M264 243h0" stroke="#fff" stroke-width="1.1" stroke-opacity="0.7"/>
<path d="M359 85h0M362 85h0M363 85h0M365 85h0M368 85h0M371 85h0M376 85h0M343 86h0M344 86h0M346 86h0M347 86h0M348 86h0M356 86h0M357 86h0M363 86h0M371 86h0M374 86h0M384 86h0M332 87h0M333 87h0M347 87h0M348 87h0M349 87h0M362 87h0M376 87h0M377 87h0M380 87h0M381 87h0M383 87h0M386 87h0M324 88h0M325 88h0M327 88h0M329 88h0M330 88h0M333 88h0M335 88h0M339 88h0M343 88h0M344 88h0M356 88h0M363 88h0M372 88h0M373 88h0M391 88h0M326 89h0M327 89h0M330 89h0M337 89h0M355 89h0M365 89h0M366 89h0M372 89h0M391 89h0M394 89h0M395 89h0M397 89h0M311 90h0M314 90h0M315 90h0M316 90h0M318 90h0M322 90h0M327 90h0M328 90h0M335 90h0M349 90h0M359 90h0M367 90h0M375 90h0M391 90h0M393 90h0M327 91h0M331 91h0M349 91h0M358 91h0M365 91h0M390 91h0M396 91h0M403 91h0M306 92h0M308 92h0M321 92h0M334 92h0M355 92h0M369 92h0M387 92h0M392 92h0M394 92h0M402 92h0M301 93h0M303 93h0M304 93h0M307 93h0M312 93h0M313 93h0M328 93h0M365 93h0M368 93h0M384 93h0M390 93h0M392 93h0M398 93h0M293 94h0M294 94h0M296 94h0M300 94h0M301 94h0M311 94h0M322 94h0M380 94h0M391 94h0M394 94h0M399 94h0M403 94h0M406 94h0M409 94h0M289 95h0M290 95h0M291 95h0M293 95h0M300 95h0M312 95h0M357 95h0M358 95h0M374 95h0M390 95h0M404 95h0M410 95h0M286 96h0M384 96h0M413 96h0M286 97h0M287 97h0M346 97h0M399 97h0M409 97h0M412 97h0M286 98h0M303 98h0M385 98h0M398 98h0M404 98h0M406 98h0M407 98h0M275 99h0M291 99h0M307 99h0M381 99h0M416 99h0M272 100h0M273 100h0M276 100h0M277 100h0M282 100h0M283 100h0M289 100h0M293 100h0M400 100h0M406 100h0M416 100h0M419 100h0M271 101h0M272 101h0M273 101h0M277 101h0M287 101h0M288 101h0M415 101h0M417 101h0M274 102h0M277 102h0M283 102h0M284 102h0M313 102h0M421 102h0M423 102h0M269 103h0M273 103h0M274 103h0M275 103h0M300 103h0M418 103h0M422 103h0M277 104h0M279 104h0M409 104h0M417 104h0M423 104h0M263 105h0M264 105h0M266 105h0M272 105h0M281 105h0M424 105h0M258 106h0M261 106h0M263 106h0M419 106h0M422 106h0M268 107h0M423 107h0M253 108h0M255 108h0M268 108h0M418 108h0M420 108h0M413 109h0M421 109h0M427 110h0M255 111h0M249 112h0M262 112h0M425 112h0M423 113h0M432 113h0M240 114h0M248 114h0M255 114h0M424 114h0M426 114h0M247 115h0M421 115h0M433 115h0M435 115h0M237 116h0M241 116h0M242 116h0M246 116h0M426 116h0M432 116h0M237 117h0M239 117h0M247 117h0M425 117h0M433 117h0M434 117h0M234 118h0M431 118h0M432 118h0M437 118h0M236 119h0M239 119h0M245 119h0M430 119h0M425 120h0M430 120h0M233 121h0M426 121h0M430 121h0M434 121h0M435 121h0M230 122h0M238 122h0M422 122h0M224 123h0M226 123h0M227 123h0M228 123h0M428 123h0M439 123h0M224 124h0M226 124h0M221 125h0M232 125h0M220 126h0M222 126h0M223 126h0M426 126h0M219 127h0M222 127h0M431 127h0M433 127h0M220 128h0M437 128h0M440 128h0M215 129h0M216 129h0M219 129h0M429 129h0M422 130h0M428 130h0M437 130h0M438 130h0M215 131h0M439 131h0M210 132h0M224 132h0M437 132h0M440 132h0M215 133h0M220 133h0M419 133h0M436 133h0M440 133h0M208 134h0M220 134h0M428 134h0M434 134h0M437 134h0M440 134h0M218 135h0M435 135h0M208 136h0M209 136h0M433 136h0M437 136h0M417 137h0M437 137h0M427 138h0M432 138h0M437 138h0M201 139h0M205 139h0M433 139h0M434 139h0M436 139h0M201 140h0M202 140h0M431 140h0M439 140h0M432 141h0M436 141h0M198 142h0M199 142h0M432 142h0M433 142h0M199 143h0M202 143h0M203 143h0M208 143h0M437 143h0M195 144h0M205 144h0M435 144h0M203 145h0M439 145h0M198 146h0M199 146h0M424 146h0M429 146h0M433 146h0M198 147h0M189 148h0M197 148h0M198 148h0M202 148h0M429 148h0M430 148h0M431 148h0M437 148h0M187 149h0M188 149h0M191 149h0M190 150h0M197 150h0M433 150h0M434 150h0M438 150h0M189 151h0M435 151h0M437 151h0M187 152h0M432 152h0M432 153h0M436 153h0M183 154h0M187 154h0M433 154h0M180 155h0M427 155h0M430 155h0M431 155h0M180 156h0M185 156h0M422 156h0M433 156h0M435 156h0M180 157h0M177 158h0M178 158h0M179 158h0M181 158h0M431 158h0M433 158h0M175 159h0M183 159h0M186 159h0M430 159h0M432 159h0M184 160h0M431 160h0M181 161h0M174 162h0M171 163h0M172 163h0M430 163h0M169 164h0M423 164h0M169 165h0M426 165h0M171 166h0M423 166h0M168 167h0M177 167h0M428 167h0M429 167h0M425 169h0M427 169h0M415 170h0M417 170h0M426 170h0M165 171h0M170 171h0M408 171h0M425 171h0M164 172h0M411 172h0M418 172h0M162 173h0M170 173h0M411 173h0M413 173h0M414 173h0M419 173h0M167 174h0M415 174h0M418 174h0M419 174h0M421 174h0M423 174h0M160 175h0M167 175h0M170 175h0M412 175h0M413 175h0M419 175h0M161 176h0M406 176h0M407 176h0M414 176h0M415 176h0M418 176h0M420 176h0M167 177h0M172 177h0M407 177h0M158 178h0M159 178h0M160 178h0M163 178h0M412 178h0M414 178h0M418 178h0M159 179h0M164 179h0M404 179h0M416 180h0M157 181h0M158 181h0M402 181h0M416 181h0M156 182h0M158 182h0M160 182h0M401 182h0M402 182h0M413 182h0M162 183h0M173 183h0M396 183h0M397 183h0M402 183h0M162 184h0M165 184h0M406 184h0M159 185h0M161 185h0M162 185h0M163 185h0M402 185h0M405 185h0M406 185h0M157 186h0M162 186h0M400 186h0M405 186h0M410 186h0M156 187h0M164 187h0M396 187h0M399 187h0M407 187h0M409 187h0M159 188h0M166 188h0M405 188h0M164 189h0M406 189h0M407 189h0M156 190h0M393 190h0M402 190h0M404 190h0M405 190h0M157 191h0M158 191h0M163 191h0M384 191h0M395 191h0M397 191h0M403 191h0M404 191h0M154 192h0M156 192h0M377 192h0M389 192h0M399 192h0M162 193h0M399 193h0M158 194h0M163 194h0M393 194h0M399 194h0M154 195h0M163 195h0M381 195h0M394 195h0M395 195h0M396 195h0M156 196h0M157 196h0M159 196h0M160 196h0M394 196h0M396 196h0M397 196h0M380 197h0M386 197h0M390 197h0M392 197h0M156 198h0M167 198h0M390 198h0M160 199h0M164 199h0M387 199h0M389 199h0M157 200h0M162 200h0M163 200h0M166 200h0M378 200h0M383 200h0M384 200h0M386 200h0M390 200h0M391 200h0M158 201h0M166 201h0M383 201h0M385 201h0M155 202h0M161 202h0M162 202h0M167 202h0M170 202h0M377 202h0M382 202h0M386 202h0M164 203h0M369 203h0M379 203h0M380 203h0M156 204h0M160 204h0M161 204h0M164 204h0M370 204h0M374 204h0M380 204h0M156 205h0M161 205h0M168 205h0M380 205h0M381 205h0M166 206h0M168 206h0M171 206h0M368 206h0M373 206h0M380 206h0M161 207h0M166 207h0M173 207h0M375 207h0M378 207h0M157 208h0M158 208h0M375 208h0M376 208h0M161 209h0M162 209h0M358 209h0M370 209h0M374 209h0M158 210h0M161 210h0M347 210h0M357 210h0M361 210h0M370 210h0M159 211h0M163 211h0M371 211h0M161 212h0M164 212h0M354 212h0M364 212h0M366 212h0M367 212h0M161 213h0M163 213h0M164 213h0M168 213h0M348 213h0M359 213h0M360 213h0M362 213h0M161 214h0M162 214h0M165 214h0M167 214h0M172 214h0M173 214h0M174 214h0M177 214h0M359 214h0M364 214h0M162 215h0M178 215h0M346 215h0M170 216h0M172 216h0M174 216h0M359 216h0M184 217h0M347 217h0M353 217h0M344 218h0M349 218h0M355 218h0M166 219h0M169 219h0M171 219h0M172 219h0M183 219h0M348 219h0M351 219h0M168 220h0M169 220h0M172 220h0M168 221h0M169 221h0M171 221h0M338 221h0M344 221h0M348 221h0M349 221h0M171 222h0M180 222h0M335 222h0M343 222h0M174 223h0M342 223h0M173 224h0M176 224h0M331 224h0M335 224h0M337 224h0M339 224h0M178 225h0M179 225h0M319 225h0M326 225h0M328 225h0M329 225h0M339 225h0M175 226h0M186 226h0M188 226h0M194 226h0M318 226h0M321 226h0M324 226h0M331 226h0M336 226h0M191 227h0M300 227h0M325 227h0M326 227h0M189 228h0M317 228h0M326 228h0M330 228h0M186 229h0M191 229h0M193 229h0M196 229h0M197 229h0M308 229h0M311 229h0M312 229h0M318 229h0M319 229h0M320 229h0M323 229h0M191 230h0M285 230h0M299 230h0M313 230h0M314 230h0M323 230h0M325 230h0M326 230h0M186 231h0M188 231h0M189 231h0M198 231h0M201 231h0M209 231h0M302 231h0M308 231h0M316 231h0M317 231h0M187 232h0M191 232h0M194 232h0M202 232h0M301 232h0M311 232h0M190 233h0M203 233h0M208 233h0M212 233h0M213 233h0M232 233h0M253 233h0M289 233h0M291 233h0M301 233h0M311 233h0M192 234h0M194 234h0M196 234h0M239 234h0M279 234h0M288 234h0M296 234h0M301 234h0M304 234h0M307 234h0M309 234h0M194 235h0M199 235h0M202 235h0M215 235h0M230 235h0M248 235h0M271 235h0M276 235h0M303 235h0M307 235h0M198 236h0M200 236h0M203 236h0M204 236h0M207 236h0M212 236h0M229 236h0M250 236h0M255 236h0M272 236h0M277 236h0M300 236h0M303 236h0M211 237h0M214 237h0M216 237h0M249 237h0M263 237h0M293 237h0M294 237h0M295 237h0M299 237h0M301 237h0M206 238h0M208 238h0M209 238h0M210 238h0M212 238h0M215 238h0M222 238h0M226 238h0M245 238h0M248 238h0M255 238h0M269 238h0M288 238h0M211 239h0M213 239h0M215 239h0M216 239h0M217 239h0M220 239h0M222 239h0M223 239h0M225 239h0M226 239h0M228 239h0M232 239h0M240 239h0M272 239h0M273 239h0M287 239h0M288 239h0M289 239h0M293 239h0M218 240h0M221 240h0M226 240h0M227 240h0M232 240h0M235 240h0M239 240h0M248 240h0M251 240h0M277 240h0M283 240h0M222 241h0M226 241h0M227 241h0M230 241h0M234 241h0M237 241h0M252 241h0M276 241h0M282 241h0M231 242h0M232 242h0M234 242h0M236 242h0M253 242h0M254 242h0M255 242h0M267 242h0M268 242h0M252 243h0M254 243h0M255 243h0M257 243h0" stroke="#fff" stroke-width="1.1"/>
<path d="M309 47h0M324 55h0M372 56h0M364 58h0M386 58h0M333 59h0M373 59h0M393 60h0M440 62h0M334 63h0M368 63h0M352 64h0M364 64h0M329 65h0M346 65h0M353 65h0M357 65h0M372 65h0M395 65h0M398 65h0M314 66h0M371 66h0M403 66h0M415 66h0M425 66h0M341 67h0M356 67h0M368 67h0M391 67h0M403 67h0M423 67h0M311 68h0M348 68h0M359 68h0M360 68h0M388 68h0M424 68h0M328 69h0M337 69h0M347 69h0M354 69h0M358 69h0M363 69h0M396 69h0M421 69h0M440 69h0M317 70h0M323 70h0M338 70h0M363 70h0M370 70h0M398 70h0M400 70h0M419 70h0M332 71h0M339 71h0M355 71h0M356 71h0M369 71h0M370 71h0M374 71h0M384 71h0M385 71h0M392 71h0M403 71h0M415 71h0M416 71h0M428 71h0M328 72h0M331 72h0M341 72h0M349 72h0M367 72h0M370 72h0M373 72h0M380 72h0M388 72h0M395 72h0M405 72h0M406 72h0M413 72h0M426 72h0M441 72h0M305 73h0M316 73h0M331 73h0M334 73h0M351 73h0M357 73h0M378 73h0M380 73h0M382 73h0M404 73h0M420 73h0M306 74h0M315 74h0M327 74h0M331 74h0M335 74h0M338 74h0M346 74h0M352 74h0M359 74h0M362 74h0M370 74h0M373 74h0M376 74h0M378 74h0M382 74h0M392 74h0M398 74h0M416 74h0M288 75h0M323 75h0M327 75h0M329 75h0M344 75h0M345 75h0M346 75h0M347 75h0M351 75h0M358 75h0M361 75h0M363 75h0M369 75h0M372 75h0M376 75h0M379 75h0M398 75h0M284 76h0M297 76h0M308 76h0M312 76h0M319 76h0M322 76h0M344 76h0M346 76h0M347 76h0M350 76h0M351 76h0M364 76h0M367 76h0M368 76h0M369 76h0M370 76h0M376 76h0M381 76h0M384 76h0M385 76h0M435 76h0M443 76h0M444 76h0M295 77h0M299 77h0M310 77h0M315 77h0M316 77h0M324 77h0M328 77h0M332 77h0M341 77h0M344 77h0M345 77h0M346 77h0M353 77h0M354 77h0M362 77h0M363 77h0M366 77h0M368 77h0M371 77h0M376 77h0M378 77h0M380 77h0M381 77h0M385 77h0M387 77h0M389 77h0M390 77h0M394 77h0M401 77h0M404 77h0M409 77h0M289 78h0M310 78h0M327 78h0M335 78h0M337 78h0M350 78h0M352 78h0M355 78h0M356 78h0M358 78h0M359 78h0M363 78h0M370 78h0M378 78h0M381 78h0M384 78h0M385 78h0M391 78h0M392 78h0M393 78h0M400 78h0M403 78h0M406 78h0M407 78h0M409 78h0M410 78h0M423 78h0M426 78h0M430 78h0M293 79h0M294 79h0M297 79h0M300 79h0M305 79h0M316 79h0M327 79h0M329 79h0M337 79h0M342 79h0M345 79h0M348 79h0M351 79h0M358 79h0M364 79h0M365 79h0M367 79h0M369 79h0M373 79h0M379 79h0M381 79h0M385 79h0M387 79h0M392 79h0M395 79h0M396 79h0M401 79h0M409 79h0M412 79h0M434 79h0M258 80h0M288 80h0M295 80h0M314 80h0M316 80h0M321 80h0M327 80h0M331 80h0M332 80h0M333 80h0M347 80h0M351 80h0M352 80h0M354 80h0M355 80h0M357 80h0M360 80h0M363 80h0M371 80h0M376 80h0M379 80h0M380 80h0M388 80h0M390 80h0M406 80h0M409 80h0M413 80h0M417 80h0M419 80h0M428 80h0M432 80h0M443 80h0M299 81h0M307 81h0M313 81h0M321 81h0M323 81h0M325 81h0M333 81h0M334 81h0M336 81h0M337 81h0M338 81h0M340 81h0M343 81h0M348 81h0M349 81h0M351 81h0M352 81h0M357 81h0M358 81h0M363 81h0M364 81h0M365 81h0M367 81h0M370 81h0M377 81h0M384 81h0M386 81h0M395 81h0M399 81h0M405 81h0M412 81h0M414 81h0M277 82h0M290 82h0M296 82h0M309 82h0M313 82h0M317 82h0M321 82h0M323 82h0M328 82h0M331 82h0M334 82h0M338 82h0M339 82h0M340 82h0M352 82h0M353 82h0M355 82h0M358 82h0M359 82h0M364 82h0M366 82h0M367 82h0M368 82h0M372 82h0M374 82h0M375 82h0M378 82h0M380 82h0M382 82h0M384 82h0M388 82h0M394 82h0M398 82h0M403 82h0M404 82h0M406 82h0M414 82h0M432 82h0M273 83h0M302 83h0M316 83h0M321 83h0M322 83h0M327 83h0M333 83h0M334 83h0M336 83h0M338 83h0M339 83h0M340 83h0M344 83h0M345 83h0M346 83h0M347 83h0M349 83h0M351 83h0M361 83h0M362 83h0M365 83h0M366 83h0M368 83h0M369 83h0M370 83h0M372 83h0M376 83h0M378 83h0M382 83h0M384 83h0M386 83h0M388 83h0M397 83h0M401 83h0M404 83h0M406 83h0M408 83h0M409 83h0M284 84h0M286 84h0M295 84h0M300 84h0M301 84h0M305 84h0M306 84h0M311 84h0M319 84h0M324 84h0M327 84h0M331 84h0M334 84h0M341 84h0M343 84h0M351 84h0M354 84h0M357 84h0M359 84h0M365 84h0M366 84h0M367 84h0M368 84h0M369 84h0M371 84h0M375 84h0M376 84h0M377 84h0M379 84h0M380 84h0M381 84h0M382 84h0M383 84h0M384 84h0M389 84h0M390 84h0M400 84h0M403 84h0M417 84h0M418 84h0M438 84h0M237 85h0M248 85h0M268 85h0M276 85h0M290 85h0M295 85h0M298 85h0M303 85h0M307 85h0M309 85h0M315 85h0M321 85h0M326 85h0M330 85h0M332 85h0M333 85h0M339 85h0M340 85h0M354 85h0M355 85h0M374 85h0M375 85h0M376 85h0M380 85h0M387 85h0M389 85h0M390 85h0M393 85h0M394 85h0M397 85h0M398 85h0M399 85h0M401 85h0M402 85h0M406 85h0M412 85h0M415 85h0M419 85h0M422 85h0M475 85h0M276 86h0M277 86h0M279 86h0M284 86h0M287 86h0M290 86h0M291 86h0M292 86h0M306 86h0M308 86h0M309 86h0M313 86h0M314 86h0M316 86h0M320 86h0M323 86h0M325 86h0M326 86h0M329 86h0M330 86h0M333 86h0M334 86h0M336 86h0M337 86h0M338 86h0M382 86h0M385 86h0M386 86h0M387 86h0M390 86h0M391 86h0M393 86h0M395 86h0M396 86h0M398 86h0M400 86h0M401 86h0M402 86h0M403 86h0M407 86h0M411 86h0M412 86h0M413 86h0M424 86h0M438 86h0M248 87h0M254 87h0M256 87h0M259 87h0M268 87h0M270 87h0M278 87h0M288 87h0M294 87h0M296 87h0M300 87h0M308 87h0M309 87h0M316 87h0M318 87h0M320 87h0M326 87h0M327 87h0M328 87h0M330 87h0M331 87h0M334 87h0M399 87h0M401 87h0M403 87h0M405 87h0M406 87h0M407 87h0M411 87h0M417 87h0M426 87h0M437 87h0M282 88h0M286 88h0M289 88h0M290 88h0M296 88h0M297 88h0M300 88h0M301 88h0M304 88h0M306 88h0M309 88h0M313 88h0M316 88h0M319 88h0M325 88h0M395 88h0M402 88h0M403 88h0M406 88h0M408 88h0M414 88h0M422 88h0M424 88h0M426 88h0M448 88h0M260 89h0M263 89h0M264 89h0M265 89h0M267 89h0M280 89h0M285 89h0M288 89h0M294 89h0M296 89h0M301 89h0M304 89h0M305 89h0M306 89h0M307 89h0M309 89h0M311 89h0M313 89h0M317 89h0M397 89h0M399 89h0M400 89h0M401 89h0M403 89h0M414 89h0M415 89h0M419 89h0M420 89h0M423 89h0M425 89h0M427 89h0M428 89h0M447 89h0M248 90h0M254 90h0M260 90h0M269 90h0M278 90h0M279 90h0M280 90h0M281 90h0M283 90h0M285 90h0M286 90h0M287 90h0M289 90h0M290 90h0M294 90h0M297 90h0M299 90h0M300 90h0M303 90h0M304 90h0M307 90h0M311 90h0M406 90h0M408 90h0M411 90h0M412 90h0M413 90h0M416 90h0M417 90h0M419 90h0M421 90h0M425 90h0M426 90h0M433 90h0M439 90h0M446 90h0M246 91h0M265 91h0M271 91h0M276 91h0M277 91h0M283 91h0M284 91h0M288 91h0M293 91h0M295 91h0M302 91h0M402 91h0M405 91h0M410 91h0M414 91h0M417 91h0M425 91h0M427 91h0M431 91h0M434 91h0M446 91h0M449 91h0M257 92h0M262 92h0M263 92h0M269 92h0M273 92h0M278 92h0M279 92h0M280 92h0M286 92h0M287 92h0M288 92h0M289 92h0M290 92h0M295 92h0M296 92h0M298 92h0M405 92h0M407 92h0M415 92h0M417 92h0M421 92h0M423 92h0M426 92h0M436 92h0M272 93h0M274 93h0M277 93h0M279 93h0M281 93h0M282 93h0M285 93h0M286 93h0M287 93h0M289 93h0M290 93h0M297 93h0M418 93h0M420 93h0M422 93h0M426 93h0M428 93h0M437 93h0M446 93h0M455 93h0M261 94h0M267 94h0M268 94h0M269 94h0M274 94h0M286 94h0M288 94h0M290 94h0M412 94h0M415 94h0M420 94h0M421 94h0M423 94h0M432 94h0M434 94h0M436 94h0M444 94h0M474 94h0M234 95h0M245 95h0M249 95h0M260 95h0M262 95h0M263 95h0M264 95h0M270 95h0M271 95h0M279 95h0M281 95h0M283 95h0M284 95h0M285 95h0M286 95h0M415 95h0M417 95h0M422 95h0M426 95h0M432 95h0M437 95h0M442 95h0M446 95h0M453 95h0M216 96h0M260 96h0M264 96h0M268 96h0M269 96h0M272 96h0M273 96h0M274 96h0M276 96h0M279 96h0M416 96h0M418 96h0M419 96h0M421 96h0M423 96h0M424 96h0M428 96h0M430 96h0M431 96h0M442 96h0M447 96h0M454 96h0M249 97h0M251 97h0M255 97h0M256 97h0M262 97h0M265 97h0M266 97h0M272 97h0M275 97h0M279 97h0M417 97h0M418 97h0M421 97h0M423 97h0M424 97h0M425 97h0M428 97h0M432 97h0M441 97h0M444 97h0M452 97h0M261 98h0M262 98h0M263 98h0M264 98h0M267 98h0M270 98h0M272 98h0M276 98h0M421 98h0M424 98h0M427 98h0M430 98h0M435 98h0M437 98h0M469 98h0M227 99h0M228 99h0M259 99h0M262 99h0M263 99h0M264 99h0M266 99h0M267 99h0M270 99h0M424 99h0M425 99h0M426 99h0M427 99h0M430 99h0M431 99h0M432 99h0M439 99h0M442 99h0M240 100h0M256 100h0M268 100h0M424 100h0M431 100h0M436 100h0M439 100h0M233 101h0M241 101h0M242 101h0M243 101h0M247 101h0M254 101h0M255 101h0M256 101h0M266 101h0M269 101h0M423 101h0M424 101h0M425 101h0M429 101h0M432 101h0M433 101h0M434 101h0M435 101h0M440 101h0M453 101h0M217 102h0M244 102h0M245 102h0M252 102h0M256 102h0M257 102h0M258 102h0M259 102h0M262 102h0M266 102h0M427 102h0M433 102h0M439 102h0M440 102h0M459 102h0M223 103h0M237 103h0M240 103h0M246 103h0M249 103h0M252 103h0M257 103h0M258 103h0M260 103h0M430 103h0M432 103h0M435 103h0M436 103h0M443 103h0M446 103h0M452 103h0M457 103h0M229 104h0M233 104h0M239 104h0M241 104h0M246 104h0M247 104h0M253 104h0M259 104h0M260 104h0M429 104h0M430 104h0M435 104h0M438 104h0M439 104h0M218 105h0M241 105h0M243 105h0M246 105h0M253 105h0M254 105h0M256 105h0M258 105h0M429 105h0M430 105h0M437 105h0M440 105h0M446 105h0M237 106h0M238 106h0M243 106h0M244 106h0M249 106h0M251 106h0M430 106h0M431 106h0M433 106h0M434 106h0M435 106h0M436 106h0M438 106h0M442 106h0M446 106h0M225 107h0M229 107h0M232 107h0M239 107h0M245 107h0M248 107h0M433 107h0M434 107h0M436 107h0M437 107h0M438 107h0M439 107h0M440 107h0M442 107h0M451 107h0M457 107h0M458 107h0M223 108h0M227 108h0M229 108h0M230 108h0M237 108h0M238 108h0M242 108h0M246 108h0M248 108h0M249 108h0M433 108h0M437 108h0M439 108h0M440 108h0M442 108h0M450 108h0M457 108h0M197 109h0M205 109h0M241 109h0M245 109h0M246 109h0M247 109h0M248 109h0M431 109h0M434 109h0M436 109h0M437 109h0M440 109h0M444 109h0M445 109h0M448 109h0M450 109h0M211 110h0M216 110h0M229 110h0M231 110h0M236 110h0M238 110h0M243 110h0M247 110h0M436 110h0M437 110h0M441 110h0M443 110h0M455 110h0M217 111h0M226 111h0M230 111h0M238 111h0M239 111h0M433 111h0M436 111h0M438 111h0M444 111h0M211 112h0M222 112h0M229 112h0M234 112h0M241 112h0M440 112h0M446 112h0M449 112h0M211 113h0M225 113h0M228 113h0M231 113h0M232 113h0M235 113h0M239 113h0M434 113h0M437 113h0M439 113h0M440 113h0M452 113h0M201 114h0M206 114h0M210 114h0M212 114h0M215 114h0M223 114h0M227 114h0M228 114h0M234 114h0M235 114h0M435 114h0M439 114h0M441 114h0M442 114h0M445 114h0M453 114h0M458 114h0M460 114h0M467 114h0M217 115h0M220 115h0M223 115h0M231 115h0M233 115h0M234 115h0M236 115h0M436 115h0M441 115h0M444 115h0M194 116h0M212 116h0M214 116h0M218 116h0M219 116h0M222 116h0M223 116h0M226 116h0M235 116h0M437 116h0M438 116h0M442 116h0M445 116h0M446 116h0M453 116h0M459 116h0M188 117h0M199 117h0M205 117h0M210 117h0M216 117h0M219 117h0M221 117h0M226 117h0M230 117h0M231 117h0M232 117h0M437 117h0M441 117h0M446 117h0M452 117h0M216 118h0M219 118h0M221 118h0M231 118h0M450 118h0M451 118h0M453 118h0M464 118h0M469 118h0M215 119h0M218 119h0M220 119h0M221 119h0M225 119h0M229 119h0M440 119h0M441 119h0M451 119h0M455 119h0M469 119h0M485 119h0M205 120h0M209 120h0M213 120h0M215 120h0M216 120h0M219 120h0M221 120h0M226 120h0M229 120h0M438 120h0M440 120h0M441 120h0M442 120h0M443 120h0M447 120h0M448 120h0M450 120h0M458 120h0M460 120h0M196 121h0M205 121h0M207 121h0M216 121h0M220 121h0M221 121h0M223 121h0M224 121h0M440 121h0M443 121h0M445 121h0M446 121h0M452 121h0M454 121h0M460 121h0M203 122h0M204 122h0M208 122h0M211 122h0M215 122h0M216 122h0M221 122h0M222 122h0M224 122h0M439 122h0M440 122h0M442 122h0M444 122h0M453 122h0M213 123h0M223 123h0M439 123h0M442 123h0M447 123h0M452 123h0M453 123h0M454 123h0M462 123h0M464 123h0M209 124h0M210 124h0M216 124h0M218 124h0M220 124h0M440 124h0M442 124h0M443 124h0M447 124h0M448 124h0M457 124h0M459 124h0M191 125h0M200 125h0M201 125h0M210 125h0M212 125h0M213 125h0M215 125h0M217 125h0M220 125h0M441 125h0M443 125h0M448 125h0M452 125h0M453 125h0M456 125h0M192 126h0M205 126h0M207 126h0M216 126h0M217 126h0M218 126h0M440 126h0M445 126h0M450 126h0M451 126h0M455 126h0M463 126h0M464 126h0M470 126h0M473 126h0M194 127h0M195 127h0M201 127h0M205 127h0M206 127h0M207 127h0M215 127h0M441 127h0M442 127h0M443 127h0M445 127h0M447 127h0M449 127h0M453 127h0M192 128h0M197 128h0M199 128h0M202 128h0M208 128h0M210 128h0M213 128h0M443 128h0M444 128h0M445 128h0M473 128h0M196 129h0M200 129h0M202 129h0M204 129h0M207 129h0M209 129h0M210 129h0M213 129h0M214 129h0M444 129h0M445 129h0M449 129h0M450 129h0M483 129h0M196 130h0M198 130h0M201 130h0M202 130h0M203 130h0M205 130h0M210 130h0M211 130h0M442 130h0M443 130h0M445 130h0M447 130h0M450 130h0M454 130h0M468 130h0M192 131h0M200 131h0M203 131h0M209 131h0M449 131h0M454 131h0M456 131h0M471 131h0M472 131h0M182 132h0M191 132h0M198 132h0M203 132h0M206 132h0M441 132h0M442 132h0M443 132h0M444 132h0M445 132h0M448 132h0M449 132h0M452 132h0M456 132h0M478 132h0M184 133h0M203 133h0M205 133h0M442 133h0M443 133h0M446 133h0M451 133h0M453 133h0M462 133h0M160 134h0M178 134h0M190 134h0M193 134h0M196 134h0M442 134h0M446 134h0M450 134h0M487 134h0M183 135h0M195 135h0M202 135h0M204 135h0M205 135h0M444 135h0M455 135h0M464 135h0M176 136h0M195 136h0M197 136h0M201 136h0M203 136h0M441 136h0M443 136h0M444 136h0M445 136h0M451 136h0M454 136h0M457 136h0M178 137h0M187 137h0M190 137h0M196 137h0M200 137h0M201 137h0M202 137h0M203 137h0M441 137h0M445 137h0M447 137h0M448 137h0M449 137h0M452 137h0M453 137h0M454 137h0M457 137h0M464 137h0M180 138h0M191 138h0M194 138h0M195 138h0M201 138h0M443 138h0M449 138h0M450 138h0M459 138h0M190 139h0M194 139h0M198 139h0M445 139h0M446 139h0M447 139h0M457 139h0M465 139h0M466 139h0M180 140h0M186 140h0M192 140h0M194 140h0M195 140h0M198 140h0M441 140h0M444 140h0M445 140h0M446 140h0M449 140h0M451 140h0M452 140h0M456 140h0M180 141h0M182 141h0M183 141h0M187 141h0M195 141h0M443 141h0M447 141h0M453 141h0M467 141h0M484 141h0M165 142h0M174 142h0M177 142h0M180 142h0M186 142h0M187 142h0M188 142h0M189 142h0M190 142h0M191 142h0M193 142h0M195 142h0M196 142h0M442 142h0M450 142h0M452 142h0M453 142h0M456 142h0M458 142h0M459 142h0M462 142h0M166 143h0M172 143h0M175 143h0M176 143h0M184 143h0M185 143h0M188 143h0M189 143h0M192 143h0M193 143h0M195 143h0M442 143h0M446 143h0M448 143h0M449 143h0M454 143h0M459 143h0M470 143h0M172 144h0M183 144h0M184 144h0M189 144h0M443 144h0M448 144h0M452 144h0M164 145h0M166 145h0M183 145h0M191 145h0M192 145h0M441 145h0M443 145h0M444 145h0M447 145h0M454 145h0M460 145h0M473 145h0M170 146h0M177 146h0M187 146h0M188 146h0M189 146h0M191 146h0M443 146h0M451 146h0M460 146h0M461 146h0M468 146h0M473 146h0M160 147h0M163 147h0M177 147h0M183 147h0M439 147h0M452 147h0M459 147h0M461 147h0M483 147h0M149 148h0M151 148h0M163 148h0M178 148h0M179 148h0M184 148h0M185 148h0M439 148h0M441 148h0M445 148h0M446 148h0M461 148h0M465 148h0M482 148h0M160 149h0M169 149h0M177 149h0M178 149h0M181 149h0M182 149h0M184 149h0M439 149h0M440 149h0M443 149h0M445 149h0M459 149h0M461 149h0M462 149h0M138 150h0M165 150h0M179 150h0M181 150h0M186 150h0M439 150h0M445 150h0M446 150h0M455 150h0M164 151h0M166 151h0M171 151h0M174 151h0M176 151h0M182 151h0M183 151h0M184 151h0M439 151h0M440 151h0M444 151h0M446 151h0M450 151h0M453 151h0M456 151h0M461 151h0M462 151h0M464 151h0M467 151h0M171 152h0M172 152h0M175 152h0M176 152h0M177 152h0M181 152h0M440 152h0M441 152h0M442 152h0M443 152h0M444 152h0M452 152h0M454 152h0M464 152h0M485 152h0M173 153h0M176 153h0M177 153h0M178 153h0M441 153h0M442 153h0M443 153h0M448 153h0M450 153h0M452 153h0M478 153h0M150 154h0M164 154h0M168 154h0M170 154h0M172 154h0M174 154h0M175 154h0M437 154h0M440 154h0M442 154h0M446 154h0M449 154h0M457 154h0M460 154h0M463 154h0M159 155h0M166 155h0M168 155h0M170 155h0M171 155h0M172 155h0M179 155h0M180 155h0M436 155h0M444 155h0M445 155h0M446 155h0M448 155h0M451 155h0M462 155h0M465 155h0M156 156h0M160 156h0M167 156h0M178 156h0M437 156h0M439 156h0M447 156h0M448 156h0M451 156h0M454 156h0M460 156h0M152 157h0M156 157h0M170 157h0M177 157h0M435 157h0M437 157h0M438 157h0M440 157h0M441 157h0M443 157h0M444 157h0M447 157h0M140 158h0M164 158h0M167 158h0M169 158h0M172 158h0M173 158h0M175 158h0M435 158h0M436 158h0M437 158h0M441 158h0M445 158h0M160 159h0M161 159h0M166 159h0M171 159h0M174 159h0M434 159h0M435 159h0M438 159h0M439 159h0M441 159h0M442 159h0M444 159h0M446 159h0M447 159h0M153 160h0M163 160h0M164 160h0M165 160h0M166 160h0M173 160h0M447 160h0M456 160h0M155 161h0M158 161h0M160 161h0M164 161h0M166 161h0M168 161h0M170 161h0M171 161h0M436 161h0M437 161h0M441 161h0M442 161h0M454 161h0M455 161h0M467 161h0M154 162h0M161 162h0M162 162h0M166 162h0M170 162h0M447 162h0M153 163h0M155 163h0M160 163h0M161 163h0M163 163h0M165 163h0M167 163h0M168 163h0M170 163h0M432 163h0M433 163h0M435 163h0M436 163h0M437 163h0M439 163h0M440 163h0M442 163h0M446 163h0M147 164h0M158 164h0M161 164h0M162 164h0M168 164h0M440 164h0M443 164h0M444 164h0M451 164h0M452 164h0M455 164h0M457 164h0M459 164h0M497 164h0M146 165h0M160 165h0M163 165h0M168 165h0M433 165h0M437 165h0M439 165h0M440 165h0M441 165h0M443 165h0M446 165h0M136 166h0M147 166h0M148 166h0M149 166h0M156 166h0M160 166h0M162 166h0M163 166h0M167 166h0M431 166h0M436 166h0M441 166h0M443 166h0M457 166h0M144 167h0M152 167h0M163 167h0M433 167h0M434 167h0M453 167h0M459 167h0M157 168h0M158 168h0M160 168h0M428 168h0M429 168h0M430 168h0M431 168h0M434 168h0M446 168h0M452 168h0M142 169h0M146 169h0M149 169h0M152 169h0M156 169h0M157 169h0M159 169h0M160 169h0M161 169h0M430 169h0M431 169h0M435 169h0M438 169h0M456 169h0M461 169h0M480 169h0M149 170h0M151 170h0M158 170h0M163 170h0M428 170h0M429 170h0M430 170h0M431 170h0M442 170h0M445 170h0M451 170h0M132 171h0M141 171h0M146 171h0M149 171h0M157 171h0M160 171h0M428 171h0M430 171h0M431 171h0M435 171h0M436 171h0M442 171h0M447 171h0M463 171h0M127 172h0M145 172h0M146 172h0M155 172h0M162 172h0M430 172h0M432 172h0M437 172h0M438 172h0M439 172h0M453 172h0M144 173h0M147 173h0M150 173h0M152 173h0M157 173h0M158 173h0M159 173h0M160 173h0M161 173h0M425 173h0M427 173h0M428 173h0M432 173h0M437 173h0M440 173h0M443 173h0M142 174h0M147 174h0M158 174h0M424 174h0M427 174h0M433 174h0M438 174h0M440 174h0M444 174h0M142 175h0M144 175h0M145 175h0M149 175h0M153 175h0M156 175h0M158 175h0M426 175h0M427 175h0M428 175h0M429 175h0M430 175h0M431 175h0M135 176h0M147 176h0M153 176h0M158 176h0M428 176h0M435 176h0M436 176h0M440 176h0M445 176h0M446 176h0M123 177h0M142 177h0M144 177h0M149 177h0M150 177h0M151 177h0M152 177h0M422 177h0M424 177h0M427 177h0M431 177h0M439 177h0M442 177h0M147 178h0M154 178h0M157 178h0M420 178h0M422 178h0M427 178h0M429 178h0M431 178h0M432 178h0M433 178h0M143 179h0M151 179h0M155 179h0M157 179h0M419 179h0M420 179h0M421 179h0M425 179h0M426 179h0M427 179h0M432 179h0M433 179h0M434 179h0M435 179h0M448 179h0M465 179h0M142 180h0M145 180h0M151 180h0M153 180h0M155 180h0M156 180h0M417 180h0M425 180h0M432 180h0M436 180h0M448 180h0M449 180h0M128 181h0M135 181h0M145 181h0M149 181h0M151 181h0M154 181h0M155 181h0M417 181h0M419 181h0M422 181h0M435 181h0M142 182h0M149 182h0M151 182h0M153 182h0M419 182h0M420 182h0M421 182h0M422 182h0M424 182h0M426 182h0M431 182h0M432 182h0M434 182h0M438 182h0M130 183h0M135 183h0M141 183h0M142 183h0M149 183h0M151 183h0M153 183h0M414 183h0M416 183h0M417 183h0M418 183h0M426 183h0M427 183h0M431 183h0M140 184h0M146 184h0M147 184h0M150 184h0M151 184h0M153 184h0M416 184h0M422 184h0M424 184h0M426 184h0M434 184h0M435 184h0M441 184h0M449 184h0M136 185h0M139 185h0M140 185h0M143 185h0M148 185h0M149 185h0M151 185h0M414 185h0M415 185h0M418 185h0M420 185h0M424 185h0M427 185h0M442 185h0M445 185h0M139 186h0M141 186h0M147 186h0M150 186h0M413 186h0M414 186h0M421 186h0M423 186h0M428 186h0M142 187h0M148 187h0M149 187h0M150 187h0M153 187h0M410 187h0M412 187h0M417 187h0M419 187h0M422 187h0M428 187h0M441 187h0M442 187h0M444 187h0M139 188h0M144 188h0M146 188h0M148 188h0M154 188h0M409 188h0M413 188h0M414 188h0M417 188h0M420 188h0M427 188h0M428 188h0M431 188h0M436 188h0M441 188h0M443 188h0M448 188h0M450 188h0M127 189h0M143 189h0M144 189h0M145 189h0M150 189h0M151 189h0M153 189h0M411 189h0M412 189h0M414 189h0M416 189h0M418 189h0M419 189h0M421 189h0M422 189h0M423 189h0M427 189h0M438 189h0M147 190h0M148 190h0M407 190h0M408 190h0M417 190h0M421 190h0M425 190h0M136 191h0M142 191h0M143 191h0M145 191h0M149 191h0M150 191h0M152 191h0M404 191h0M411 191h0M428 191h0M439 191h0M130 192h0M132 192h0M141 192h0M146 192h0M148 192h0M151 192h0M152 192h0M406 192h0M408 192h0M409 192h0M419 192h0M426 192h0M429 192h0M441 192h0M134 193h0M136 193h0M143 193h0M144 193h0M151 193h0M153 193h0M402 193h0M403 193h0M409 193h0M410 193h0M412 193h0M418 193h0M420 193h0M437 193h0M119 194h0M140 194h0M149 194h0M151 194h0M152 194h0M401 194h0M402 194h0M404 194h0M408 194h0M411 194h0M413 194h0M414 194h0M420 194h0M422 194h0M428 194h0M126 195h0M143 195h0M145 195h0M151 195h0M153 195h0M400 195h0M401 195h0M405 195h0M406 195h0M408 195h0M410 195h0M413 195h0M417 195h0M421 195h0M424 195h0M430 195h0M438 195h0M143 196h0M147 196h0M153 196h0M400 196h0M402 196h0M403 196h0M406 196h0M409 196h0M415 196h0M419 196h0M421 196h0M443 196h0M144 197h0M146 197h0M149 197h0M152 197h0M403 197h0M405 197h0M406 197h0M408 197h0M409 197h0M421 197h0M427 197h0M431 197h0M432 197h0M449 197h0M145 198h0M146 198h0M147 198h0M148 198h0M149 198h0M396 198h0M399 198h0M400 198h0M403 198h0M404 198h0M405 198h0M406 198h0M411 198h0M422 198h0M423 198h0M425 198h0M448 198h0M127 199h0M135 199h0M147 199h0M148 199h0M152 199h0M153 199h0M397 199h0M398 199h0M399 199h0M403 199h0M406 199h0M408 199h0M417 199h0M427 199h0M450 199h0M137 200h0M139 200h0M147 200h0M393 200h0M396 200h0M397 200h0M399 200h0M401 200h0M402 200h0M404 200h0M406 200h0M409 200h0M124 201h0M137 201h0M144 201h0M146 201h0M147 201h0M150 201h0M153 201h0M394 201h0M398 201h0M399 201h0M403 201h0M406 201h0M407 201h0M408 201h0M409 201h0M427 201h0M129 202h0M143 202h0M147 202h0M149 202h0M150 202h0M154 202h0M388 202h0M389 202h0M391 202h0M395 202h0M396 202h0M397 202h0M398 202h0M408 202h0M421 202h0M422 202h0M425 202h0M145 203h0M149 203h0M150 203h0M152 203h0M388 203h0M389 203h0M392 203h0M394 203h0M404 203h0M409 203h0M413 203h0M414 203h0M423 203h0M126 204h0M130 204h0M139 204h0M147 204h0M148 204h0M150 204h0M386 204h0M387 204h0M388 204h0M389 204h0M390 204h0M392 204h0M402 204h0M408 204h0M418 204h0M419 204h0M127 205h0M128 205h0M135 205h0M138 205h0M142 205h0M143 205h0M382 205h0M384 205h0M392 205h0M393 205h0M396 205h0M400 205h0M402 205h0M405 205h0M132 206h0M134 206h0M142 206h0M151 206h0M153 206h0M154 206h0M155 206h0M386 206h0M389 206h0M394 206h0M397 206h0M427 206h0M143 207h0M147 207h0M379 207h0M381 207h0M391 207h0M393 207h0M395 207h0M399 207h0M401 207h0M405 207h0M411 207h0M412 207h0M415 207h0M420 207h0M425 207h0M441 207h0M143 208h0M147 208h0M149 208h0M150 208h0M151 208h0M152 208h0M155 208h0M156 208h0M380 208h0M389 208h0M394 208h0M404 208h0M405 208h0M414 208h0M417 208h0M141 209h0M146 209h0M147 209h0M376 209h0M377 209h0M378 209h0M379 209h0M380 209h0M381 209h0M385 209h0M386 209h0M392 209h0M395 209h0M401 209h0M402 209h0M403 209h0M417 209h0M145 210h0M148 210h0M157 210h0M376 210h0M377 210h0M380 210h0M382 210h0M383 210h0M384 210h0M387 210h0M392 210h0M393 210h0M394 210h0M400 210h0M149 211h0M151 211h0M153 211h0M155 211h0M157 211h0M373 211h0M374 211h0M376 211h0M377 211h0M380 211h0M383 211h0M384 211h0M389 211h0M392 211h0M396 211h0M400 211h0M424 211h0M145 212h0M149 212h0M152 212h0M154 212h0M155 212h0M157 212h0M159 212h0M369 212h0M372 212h0M377 212h0M378 212h0M380 212h0M384 212h0M385 212h0M390 212h0M391 212h0M394 212h0M401 212h0M405 212h0M140 213h0M147 213h0M152 213h0M154 213h0M155 213h0M156 213h0M158 213h0M370 213h0M373 213h0M375 213h0M383 213h0M384 213h0M385 213h0M386 213h0M387 213h0M405 213h0M136 214h0M140 214h0M151 214h0M367 214h0M369 214h0M371 214h0M376 214h0M387 214h0M141 215h0M143 215h0M146 215h0M147 215h0M149 215h0M150 215h0M152 215h0M157 215h0M158 215h0M161 215h0M365 215h0M368 215h0M370 215h0M371 215h0M373 215h0M376 215h0M381 215h0M386 215h0M394 215h0M397 215h0M129 216h0M137 216h0M148 216h0M154 216h0M158 216h0M161 216h0M360 216h0M364 216h0M365 216h0M367 216h0M372 216h0M375 216h0M393 216h0M394 216h0M396 216h0M398 216h0M132 217h0M155 217h0M156 217h0M157 217h0M158 217h0M163 217h0M364 217h0M366 217h0M375 217h0M378 217h0M381 217h0M397 217h0M409 217h0M148 218h0M151 218h0M155 218h0M161 218h0M162 218h0M357 218h0M358 218h0M360 218h0M363 218h0M368 218h0M386 218h0M399 218h0M420 218h0M155 219h0M165 219h0M355 219h0M356 219h0M358 219h0M362 219h0M365 219h0M367 219h0M372 219h0M374 219h0M381 219h0M388 219h0M398 219h0M407 219h0M146 220h0M147 220h0M154 220h0M158 220h0M161 220h0M165 220h0M354 220h0M356 220h0M358 220h0M362 220h0M365 220h0M366 220h0M383 220h0M392 220h0M397 220h0M400 220h0M415 220h0M140 221h0M142 221h0M155 221h0M156 221h0M158 221h0M159 221h0M161 221h0M163 221h0M165 221h0M166 221h0M167 221h0M349 221h0M377 221h0M382 221h0M390 221h0M403 221h0M406 221h0M135 222h0M150 222h0M151 222h0M154 222h0M156 222h0M157 222h0M163 222h0M348 222h0M349 222h0M352 222h0M355 222h0M356 222h0M358 222h0M363 222h0M364 222h0M371 222h0M373 222h0M374 222h0M380 222h0M381 222h0M390 222h0M124 223h0M135 223h0M139 223h0M140 223h0M149 223h0M162 223h0M167 223h0M346 223h0M351 223h0M352 223h0M353 223h0M357 223h0M358 223h0M363 223h0M372 223h0M373 223h0M374 223h0M381 223h0M382 223h0M405 223h0M135 224h0M138 224h0M139 224h0M148 224h0M164 224h0M167 224h0M344 224h0M346 224h0M347 224h0M356 224h0M357 224h0M364 224h0M365 224h0M367 224h0M369 224h0M397 224h0M102 225h0M137 225h0M139 225h0M146 225h0M150 225h0M161 225h0M169 225h0M342 225h0M346 225h0M349 225h0M358 225h0M359 225h0M365 225h0M367 225h0M385 225h0M141 226h0M142 226h0M162 226h0M164 226h0M167 226h0M168 226h0M169 226h0M170 226h0M171 226h0M174 226h0M336 226h0M337 226h0M338 226h0M341 226h0M344 226h0M347 226h0M354 226h0M357 226h0M359 226h0M377 226h0M382 226h0M389 226h0M157 227h0M158 227h0M164 227h0M166 227h0M167 227h0M168 227h0M171 227h0M334 227h0M337 227h0M340 227h0M341 227h0M342 227h0M344 227h0M345 227h0M346 227h0M347 227h0M355 227h0M356 227h0M360 227h0M361 227h0M364 227h0M365 227h0M366 227h0M372 227h0M388 227h0M138 228h0M156 228h0M159 228h0M163 228h0M168 228h0M172 228h0M174 228h0M175 228h0M333 228h0M335 228h0M336 228h0M337 228h0M343 228h0M345 228h0M347 228h0M348 228h0M349 228h0M350 228h0M351 228h0M359 228h0M366 228h0M369 228h0M376 228h0M136 229h0M144 229h0M152 229h0M154 229h0M163 229h0M166 229h0M167 229h0M168 229h0M169 229h0M170 229h0M174 229h0M179 229h0M328 229h0M332 229h0M334 229h0M337 229h0M340 229h0M344 229h0M346 229h0M349 229h0M351 229h0M353 229h0M359 229h0M373 229h0M135 230h0M142 230h0M158 230h0M161 230h0M166 230h0M168 230h0M170 230h0M175 230h0M178 230h0M329 230h0M333 230h0M337 230h0M341 230h0M344 230h0M363 230h0M365 230h0M375 230h0M148 231h0M152 231h0M164 231h0M167 231h0M169 231h0M170 231h0M175 231h0M178 231h0M183 231h0M322 231h0M324 231h0M326 231h0M329 231h0M334 231h0M336 231h0M339 231h0M341 231h0M349 231h0M352 231h0M364 231h0M371 231h0M156 232h0M157 232h0M170 232h0M172 232h0M176 232h0M187 232h0M320 232h0M321 232h0M324 232h0M325 232h0M328 232h0M329 232h0M331 232h0M335 232h0M336 232h0M339 232h0M345 232h0M351 232h0M353 232h0M357 232h0M372 232h0M375 232h0M161 233h0M162 233h0M163 233h0M164 233h0M168 233h0M170 233h0M173 233h0M174 233h0M178 233h0M185 233h0M187 233h0M315 233h0M317 233h0M318 233h0M320 233h0M321 233h0M328 233h0M329 233h0M330 233h0M334 233h0M338 233h0M342 233h0M346 233h0M349 233h0M350 233h0M362 233h0M161 234h0M169 234h0M170 234h0M173 234h0M175 234h0M177 234h0M179 234h0M180 234h0M182 234h0M184 234h0M185 234h0M186 234h0M312 234h0M313 234h0M314 234h0M316 234h0M318 234h0M322 234h0M327 234h0M331 234h0M332 234h0M334 234h0M337 234h0M349 234h0M351 234h0M368 234h0M373 234h0M154 235h0M161 235h0M163 235h0M175 235h0M177 235h0M178 235h0M181 235h0M182 235h0M183 235h0M184 235h0M186 235h0M188 235h0M189 235h0M190 235h0M195 235h0M315 235h0M316 235h0M319 235h0M320 235h0M321 235h0M322 235h0M323 235h0M324 235h0M325 235h0M326 235h0M328 235h0M330 235h0M333 235h0M335 235h0M337 235h0M344 235h0M346 235h0M347 235h0M349 235h0M351 235h0M357 235h0M370 235h0M376 235h0M395 235h0M139 236h0M152 236h0M164 236h0M173 236h0M175 236h0M176 236h0M178 236h0M179 236h0M180 236h0M181 236h0M184 236h0M186 236h0M187 236h0M188 236h0M194 236h0M195 236h0M197 236h0M305 236h0M306 236h0M308 236h0M309 236h0M314 236h0M315 236h0M316 236h0M318 236h0M320 236h0M321 236h0M323 236h0M325 236h0M328 236h0M331 236h0M332 236h0M333 236h0M334 236h0M340 236h0M342 236h0M343 236h0M351 236h0M139 237h0M153 237h0M166 237h0M167 237h0M170 237h0M175 237h0M177 237h0M180 237h0M183 237h0M184 237h0M186 237h0M189 237h0M195 237h0M196 237h0M302 237h0M305 237h0M306 237h0M307 237h0M313 237h0M314 237h0M317 237h0M318 237h0M321 237h0M326 237h0M338 237h0M339 237h0M341 237h0M343 237h0M352 237h0M366 237h0M159 238h0M161 238h0M167 238h0M169 238h0M174 238h0M175 238h0M176 238h0M177 238h0M178 238h0M181 238h0M184 238h0M187 238h0M188 238h0M189 238h0M190 238h0M191 238h0M193 238h0M203 238h0M204 238h0M205 238h0M296 238h0M298 238h0M302 238h0M304 238h0M305 238h0M313 238h0M316 238h0M318 238h0M324 238h0M326 238h0M331 238h0M332 238h0M333 238h0M335 238h0M349 238h0M360 238h0M392 238h0M137 239h0M157 239h0M170 239h0M172 239h0M173 239h0M178 239h0M180 239h0M188 239h0M193 239h0M195 239h0M198 239h0M199 239h0M200 239h0M206 239h0M209 239h0M294 239h0M295 239h0M301 239h0M302 239h0M303 239h0M305 239h0M309 239h0M319 239h0M325 239h0M333 239h0M334 239h0M338 239h0M152 240h0M160 240h0M162 240h0M167 240h0M175 240h0M184 240h0M193 240h0M194 240h0M196 240h0M202 240h0M206 240h0M207 240h0M210 240h0M213 240h0M215 240h0M297 240h0M298 240h0M301 240h0M303 240h0M304 240h0M309 240h0M310 240h0M311 240h0M313 240h0M320 240h0M327 240h0M330 240h0M339 240h0M341 240h0M351 240h0M144 241h0M153 241h0M158 241h0M160 241h0M170 241h0M187 241h0M190 241h0M194 241h0M196 241h0M198 241h0M200 241h0M202 241h0M203 241h0M204 241h0M205 241h0M207 241h0M210 241h0M211 241h0M215 241h0M222 241h0M288 241h0M289 241h0M292 241h0M293 241h0M294 241h0M300 241h0M301 241h0M302 241h0M309 241h0M313 241h0M314 241h0M316 241h0M328 241h0M335 241h0M342 241h0M346 241h0M152 242h0M173 242h0M174 242h0M183 242h0M194 242h0M195 242h0M200 242h0M206 242h0M208 242h0M209 242h0M210 242h0M212 242h0M215 242h0M216 242h0M218 242h0M219 242h0M221 242h0M223 242h0M228 242h0M269 242h0M270 242h0M274 242h0M280 242h0M281 242h0M283 242h0M284 242h0M286 242h0M288 242h0M289 242h0M291 242h0M295 242h0M297 242h0M299 242h0M301 242h0M305 242h0M309 242h0M312 242h0M314 242h0M316 242h0M318 242h0M324 242h0M328 242h0M335 242h0M344 242h0M359 242h0M363 242h0M161 243h0M163 243h0M169 243h0M187 243h0M189 243h0M190 243h0M199 243h0M200 243h0M202 243h0M203 243h0M204 243h0M206 243h0M215 243h0M218 243h0M221 243h0M228 243h0M229 243h0M234 243h0M235 243h0M237 243h0M242 243h0M247 243h0M259 243h0M263 243h0M267 243h0M272 243h0M274 243h0M275 243h0M278 243h0M279 243h0M286 243h0M288 243h0M290 243h0M292 243h0M294 243h0M300 243h0M302 243h0M306 243h0M315 243h0M317 243h0M321 243h0M323 243h0M366 243h0M149 244h0M179 244h0M180 244h0M182 244h0M184 244h0M199 244h0M200 244h0M202 244h0M203 244h0M204 244h0M207 244h0M209 244h0M210 244h0M211 244h0M213 244h0M216 244h0M227 244h0M229 244h0M235 244h0M239 244h0M240 244h0M241 244h0M243 244h0M246 244h0M247 244h0M249 244h0M251 244h0M260 244h0M262 244h0M268 244h0M274 244h0M281 244h0M283 244h0M285 244h0M287 244h0M289 244h0M291 244h0M293 244h0M307 244h0M321 244h0M330 244h0M175 245h0M184 245h0M185 245h0M195 245h0M205 245h0M206 245h0M209 245h0M210 245h0M211 245h0M216 245h0M219 245h0M223 245h0M224 245h0M234 245h0M238 245h0M246 245h0M248 245h0M255 245h0M261 245h0M262 245h0M263 245h0M265 245h0M268 245h0M269 245h0M271 245h0M274 245h0M275 245h0M276 245h0M279 245h0M282 245h0M284 245h0M286 245h0M287 245h0M290 245h0M291 245h0M292 245h0M298 245h0M299 245h0M302 245h0M309 245h0M312 245h0M319 245h0M324 245h0M325 245h0M352 245h0M179 246h0M192 246h0M195 246h0M198 246h0M205 246h0M207 246h0M210 246h0M220 246h0M226 246h0M227 246h0M228 246h0M229 246h0M232 246h0M233 246h0M237 246h0M240 246h0M241 246h0M243 246h0M245 246h0M248 246h0M251 246h0M253 246h0M261 246h0M263 246h0M265 246h0M271 246h0M272 246h0M273 246h0M281 246h0M289 246h0M290 246h0M296 246h0M304 246h0M315 246h0M316 246h0M319 246h0M162 247h0M164 247h0M168 247h0M177 247h0M185 247h0M190 247h0M194 247h0M202 247h0M204 247h0M209 247h0M216 247h0M217 247h0M218 247h0M219 247h0M225 247h0M227 247h0M231 247h0M236 247h0M239 247h0M241 247h0M242 247h0M243 247h0M248 247h0M255 247h0M259 247h0M260 247h0M262 247h0M264 247h0M267 247h0M269 247h0M274 247h0M275 247h0M279 247h0M283 247h0M291 247h0M292 247h0M295 247h0M300 247h0M314 247h0M351 247h0M161 248h0M168 248h0M185 248h0M190 248h0M195 248h0M199 248h0M203 248h0M211 248h0M226 248h0M228 248h0M230 248h0M233 248h0M235 248h0M238 248h0M239 248h0M243 248h0M245 248h0M249 248h0M252 248h0M253 248h0M255 248h0M262 248h0M263 248h0M267 248h0M269 248h0M273 248h0M276 248h0M283 248h0M287 248h0M289 248h0M295 248h0M296 248h0M297 248h0M299 248h0M300 248h0M301 248h0M304 248h0M312 248h0M350 248h0M164 249h0M165 249h0M182 249h0M183 249h0M184 249h0M210 249h0M213 249h0M217 249h0M220 249h0M231 249h0M232 249h0M236 249h0M240 249h0M242 249h0M247 249h0M250 249h0M252 249h0M257 249h0M258 249h0M263 249h0M271 249h0M275 249h0M285 249h0M287 249h0M294 249h0M295 249h0M305 249h0M370 249h0M190 250h0M198 250h0M205 250h0M206 250h0M207 250h0M209 250h0M220 250h0M222 250h0M224 250h0M225 250h0M231 250h0M232 250h0M236 250h0M241 250h0M249 250h0M251 250h0M253 250h0M257 250h0M263 250h0M267 250h0M268 250h0M272 250h0M275 250h0M278 250h0M280 250h0M281 250h0M283 250h0M285 250h0M296 250h0M299 250h0M309 250h0M334 250h0M147 251h0M185 251h0M187 251h0M193 251h0M198 251h0M199 251h0M211 251h0M214 251h0M215 251h0M217 251h0M219 251h0M222 251h0M225 251h0M232 251h0M233 251h0M234 251h0M237 251h0M248 251h0M249 251h0M250 251h0M254 251h0M255 251h0M262 251h0M263 251h0M268 251h0M276 251h0M282 251h0M288 251h0M291 251h0M302 251h0M317 251h0M331 251h0M202 252h0M203 252h0M211 252h0M235 252h0M244 252h0M248 252h0M256 252h0M264 252h0M265 252h0M266 252h0M268 252h0M273 252h0M274 252h0M276 252h0M286 252h0M291 252h0M292 252h0M294 252h0M298 252h0M187 253h0M199 253h0M220 253h0M224 253h0M227 253h0M231 253h0M232 253h0M241 253h0M245 253h0M253 253h0M265 253h0M266 253h0M267 253h0M270 253h0M272 253h0M273 253h0M275 253h0M276 253h0M291 253h0M300 253h0M310 253h0M318 253h0M183 254h0M189 254h0M190 254h0M209 254h0M213 254h0M227 254h0M250 254h0M253 254h0M259 254h0M263 254h0M266 254h0M269 254h0M271 254h0M273 254h0M275 254h0M278 254h0M284 254h0M288 254h0M290 254h0M299 254h0M317 254h0M337 254h0M204 255h0M205 255h0M238 255h0M252 255h0M256 255h0M266 255h0M273 255h0M278 255h0M287 255h0M289 255h0M313 255h0M324 255h0M361 255h0M197 256h0M242 256h0M244 256h0M257 256h0M260 256h0M286 256h0M305 256h0M310 256h0M324 256h0M186 257h0M191 257h0M195 257h0M201 257h0M209 257h0M233 257h0M235 257h0M246 257h0M251 257h0M254 257h0M255 257h0M259 257h0M269 257h0M301 257h0M306 257h0M208 258h0M230 258h0M241 258h0M268 258h0M274 258h0M278 258h0M318 258h0M177 259h0M202 259h0M216 259h0M258 259h0M260 259h0M301 259h0M219 260h0M247 260h0M249 260h0M290 260h0M326 260h0M212 261h0M213 261h0M253 261h0M281 261h0M304 261h0M323 261h0M194 262h0M247 262h0M265 262h0M274 262h0M223 263h0M229 263h0M265 263h0M305 263h0M166 264h0M192 264h0M220 264h0M253 264h0M320 264h0M215 265h0M262 265h0M272 265h0M288 265h0M346 265h0M257 266h0M271 266h0M306 269h0M163 274h0M169 274h0M258 274h0" stroke="#ff00ff" stroke-width="1.2" stroke-opacity="0.7"/>
<path d="M358 67h0M351 68h0M387 70h0M372 72h0M349 73h0M343 76h0M359 76h0M392 76h0M340 77h0M347 77h0M349 77h0M369 77h0M377 77h0M290 78h0M338 78h0M342 78h0M379 78h0M380 78h0M310 79h0M388 79h0M389 79h0M390 79h0M399 79h0M289 80h0M312 80h0M348 80h0M350 80h0M359 80h0M362 80h0M364 80h0M365 80h0M368 80h0M392 80h0M394 80h0M407 80h0M303 81h0M328 81h0M329 81h0M332 81h0M350 81h0M353 81h0M355 81h0M359 81h0M362 81h0M371 81h0M374 81h0M379 81h0M392 81h0M403 81h0M336 82h0M341 82h0M343 82h0M354 82h0M360 82h0M365 82h0M370 82h0M373 82h0M379 82h0M381 82h0M383 82h0M385 82h0M312 83h0M314 83h0M329 83h0M332 83h0M350 83h0M354 83h0M360 83h0M367 83h0M375 83h0M379 83h0M390 83h0M393 83h0M296 84h0M307 84h0M315 84h0M320 84h0M323 84h0M326 84h0M328 84h0M332 84h0M342 84h0M347 84h0M353 84h0M358 84h0M360 84h0M364 84h0M391 84h0M396 84h0M399 84h0M402 84h0M416 84h0M288 85h0M306 85h0M318 85h0M328 85h0M329 85h0M337 85h0M338 85h0M342 85h0M346 85h0M347 85h0M349 85h0M352 85h0M359 85h0M378 85h0M381 85h0M382 85h0M383 85h0M385 85h0M386 85h0M388 85h0M391 85h0M395 85h0M400 85h0M405 85h0M300 86h0M301 86h0M324 86h0M327 86h0M392 86h0M397 86h0M409 86h0M422 86h0M292 87h0M310 87h0M317 87h0M319 87h0M321 87h0M322 87h0M436 87h0M279 88h0M295 88h0M299 88h0M310 88h0M311 88h0M314 88h0M318 88h0M323 88h0M397 88h0M398 88h0M404 88h0M418 88h0M270 89h0M300 89h0M303 89h0M312 89h0M315 89h0M302 90h0M310 90h0M404 90h0M410 90h0M420 90h0M434 90h0M291 91h0M292 91h0M304 91h0M404 91h0M407 91h0M408 91h0M416 91h0M418 91h0M284 92h0M291 92h0M292 92h0M293 92h0M302 92h0M412 92h0M427 92h0M269 93h0M275 93h0M288 93h0M292 93h0M412 93h0M277 94h0M283 94h0M284 94h0M287 94h0M289 94h0M291 94h0M417 94h0M419 94h0M428 94h0M276 95h0M278 95h0M280 95h0M282 95h0M421 95h0M427 95h0M280 96h0M269 97h0M269 98h0M275 98h0M420 98h0M423 98h0M268 99h0M273 99h0M420 99h0M428 99h0M262 100h0M270 100h0M425 100h0M440 100h0M267 101h0M428 101h0M247 102h0M253 102h0M254 102h0M255 102h0M261 102h0M429 102h0M431 102h0M434 102h0M254 103h0M256 103h0M261 103h0M262 103h0M428 103h0M244 104h0M248 104h0M257 104h0M258 104h0M427 104h0M431 104h0M432 104h0M257 105h0M428 105h0M432 105h0M255 106h0M440 106h0M228 107h0M246 107h0M247 107h0M249 107h0M251 107h0M430 107h0M250 108h0M434 108h0M231 109h0M239 109h0M244 109h0M432 109h0M442 109h0M232 110h0M235 110h0M241 110h0M242 110h0M433 110h0M222 111h0M229 111h0M237 111h0M240 111h0M242 111h0M243 111h0M244 111h0M435 111h0M238 112h0M439 112h0M441 112h0M447 112h0M233 113h0M236 113h0M238 113h0M442 113h0M446 113h0M226 114h0M230 114h0M232 114h0M440 115h0M446 115h0M224 116h0M233 116h0M444 116h0M438 117h0M215 118h0M229 118h0M230 118h0M226 119h0M227 119h0M450 119h0M212 120h0M212 121h0M213 121h0M439 121h0M213 122h0M217 122h0M220 122h0M223 122h0M189 123h0M217 123h0M218 123h0M222 123h0M214 124h0M217 124h0M221 124h0M216 125h0M218 125h0M219 125h0M442 125h0M444 125h0M446 125h0M447 125h0M211 127h0M214 127h0M216 127h0M448 127h0M193 128h0M214 128h0M441 128h0M212 129h0M204 130h0M208 130h0M213 130h0M444 130h0M446 130h0M199 131h0M207 131h0M210 131h0M441 131h0M444 131h0M202 132h0M209 132h0M195 133h0M200 133h0M204 133h0M452 133h0M204 134h0M444 134h0M456 134h0M197 135h0M201 135h0M206 135h0M445 135h0M449 135h0M460 135h0M196 136h0M198 136h0M450 136h0M453 136h0M184 137h0M450 137h0M192 138h0M200 138h0M196 139h0M200 139h0M444 139h0M191 140h0M447 140h0M166 141h0M185 141h0M186 141h0M193 141h0M444 141h0M455 141h0M441 142h0M444 142h0M446 142h0M187 143h0M194 143h0M456 143h0M178 144h0M194 144h0M179 145h0M190 145h0M440 145h0M442 145h0M445 145h0M461 145h0M178 146h0M174 147h0M176 147h0M187 147h0M440 147h0M441 147h0M187 148h0M444 148h0M448 148h0M183 149h0M442 149h0M178 150h0M185 150h0M442 150h0M439 152h0M446 152h0M449 152h0M180 153h0M437 153h0M178 154h0M174 156h0M176 156h0M440 156h0M449 156h0M450 156h0M442 157h0M170 158h0M438 158h0M167 159h0M172 159h0M437 159h0M445 159h0M171 160h0M435 160h0M436 160h0M437 160h0M438 160h0M153 161h0M157 161h0M435 161h0M169 162h0M171 162h0M434 162h0M436 162h0M437 162h0M169 163h0M438 163h0M447 163h0M434 164h0M157 165h0M433 166h0M448 166h0M157 167h0M164 167h0M430 167h0M161 168h0M163 168h0M433 168h0M439 168h0M159 170h0M432 170h0M144 171h0M161 171h0M162 171h0M427 171h0M457 171h0M148 172h0M156 172h0M158 172h0M159 172h0M160 172h0M161 172h0M427 172h0M155 173h0M156 173h0M143 174h0M153 174h0M426 174h0M434 174h0M159 175h0M424 175h0M151 176h0M156 176h0M157 176h0M155 177h0M156 177h0M423 177h0M425 177h0M429 177h0M152 178h0M421 178h0M423 178h0M424 178h0M425 178h0M428 178h0M145 179h0M422 179h0M424 179h0M154 180h0M418 180h0M419 180h0M420 180h0M144 181h0M148 181h0M150 181h0M152 181h0M156 181h0M424 181h0M430 181h0M148 182h0M155 182h0M154 183h0M415 183h0M421 183h0M439 183h0M415 184h0M413 185h0M417 185h0M151 186h0M152 186h0M154 186h0M412 186h0M419 186h0M145 187h0M151 187h0M152 187h0M414 187h0M151 188h0M416 188h0M410 189h0M417 189h0M409 190h0M418 190h0M406 191h0M408 191h0M414 191h0M404 192h0M147 193h0M143 194h0M403 194h0M409 195h0M415 195h0M399 196h0M400 197h0M404 197h0M144 198h0M401 198h0M407 198h0M149 199h0M394 199h0M140 200h0M142 200h0M149 200h0M151 200h0M395 200h0M405 200h0M392 201h0M395 201h0M396 201h0M148 202h0M153 202h0M392 202h0M393 202h0M395 203h0M400 203h0M408 203h0M151 204h0M154 204h0M393 204h0M394 204h0M401 204h0M405 204h0M383 205h0M385 205h0M389 205h0M146 206h0M148 206h0M383 206h0M384 206h0M385 206h0M152 207h0M155 207h0M384 207h0M388 207h0M392 207h0M153 208h0M379 208h0M382 208h0M154 209h0M155 209h0M379 210h0M150 211h0M372 211h0M150 212h0M158 212h0M383 212h0M159 213h0M369 213h0M372 213h0M379 213h0M153 214h0M154 214h0M158 214h0M159 214h0M160 214h0M370 214h0M379 214h0M386 214h0M155 215h0M160 215h0M379 215h0M159 216h0M362 216h0M161 217h0M162 217h0M361 217h0M362 217h0M365 217h0M370 217h0M376 217h0M377 217h0M383 217h0M157 218h0M164 218h0M359 218h0M362 218h0M367 218h0M157 219h0M164 219h0M366 219h0M379 219h0M386 219h0M151 220h0M155 220h0M355 220h0M359 220h0M361 220h0M368 220h0M381 220h0M152 221h0M157 221h0M351 221h0M352 221h0M357 221h0M358 221h0M360 221h0M361 221h0M164 222h0M167 222h0M350 222h0M384 222h0M165 223h0M169 223h0M347 223h0M349 223h0M166 224h0M170 224h0M345 224h0M162 225h0M168 225h0M341 225h0M172 226h0M343 226h0M349 226h0M351 226h0M356 226h0M361 226h0M378 226h0M169 227h0M172 227h0M173 227h0M175 227h0M176 227h0M339 227h0M343 227h0M351 227h0M352 227h0M370 227h0M154 228h0M170 228h0M171 228h0M176 228h0M177 228h0M332 228h0M172 229h0M177 229h0M178 229h0M339 229h0M350 229h0M179 230h0M180 230h0M181 230h0M332 230h0M335 230h0M350 230h0M163 231h0M176 231h0M331 231h0M338 231h0M350 231h0M180 232h0M183 232h0M337 232h0M365 232h0M167 233h0M186 233h0M188 233h0M319 233h0M325 233h0M341 233h0M190 234h0M315 234h0M319 234h0M320 234h0M321 234h0M325 234h0M330 234h0M169 235h0M192 235h0M193 235h0M309 235h0M312 235h0M171 236h0M174 236h0M182 236h0M189 236h0M190 236h0M310 236h0M313 236h0M327 236h0M176 237h0M193 237h0M194 237h0M197 237h0M308 237h0M312 237h0M315 237h0M334 237h0M342 237h0M179 238h0M192 238h0M194 238h0M197 238h0M198 238h0M199 238h0M200 238h0M300 238h0M307 238h0M314 238h0M182 239h0M184 239h0M197 239h0M201 239h0M202 239h0M203 239h0M204 239h0M205 239h0M207 239h0M208 239h0M293 239h0M300 239h0M304 239h0M310 239h0M323 239h0M183 240h0M186 240h0M195 240h0M199 240h0M201 240h0M208 240h0M212 240h0M287 240h0M290 240h0M293 240h0M314 240h0M321 240h0M151 241h0M164 241h0M178 241h0M197 241h0M212 241h0M216 241h0M217 241h0M218 241h0M282 241h0M287 241h0M290 241h0M308 241h0M198 242h0M217 242h0M220 242h0M229 242h0M272 242h0M276 242h0M277 242h0M287 242h0M292 242h0M175 243h0M195 243h0M209 243h0M217 243h0M219 243h0M225 243h0M227 243h0M231 243h0M236 243h0M238 243h0M265 243h0M266 243h0M281 243h0M282 243h0M283 243h0M313 243h0M314 243h0M222 244h0M226 244h0M228 244h0M230 244h0M233 244h0M237 244h0M238 244h0M245 244h0M254 244h0M263 244h0M270 244h0M272 244h0M273 244h0M288 244h0M300 244h0M310 244h0M198 245h0M200 245h0M203 245h0M213 245h0M226 245h0M229 245h0M240 245h0M243 245h0M250 245h0M252 245h0M256 245h0M260 245h0M264 245h0M267 245h0M272 245h0M273 245h0M307 245h0M199 246h0M202 246h0M231 246h0M254 246h0M256 246h0M267 246h0M291 246h0M196 247h0M230 247h0M235 247h0M246 247h0M249 247h0M252 247h0M280 247h0M285 247h0M288 247h0M301 247h0M173 248h0M192 248h0M212 248h0M221 248h0M232 248h0M234 248h0M240 248h0M242 248h0M250 248h0M290 248h0M207 249h0M230 249h0M235 249h0M238 249h0M260 249h0M270 249h0M243 250h0M260 250h0M265 250h0M295 250h0M271 251h0M292 251h0M313 251h0M213 252h0M229 252h0M243 252h0M255 254h0M260 254h0M294 254h0M268 255h0M287 260h0M287 262h0" stroke="#ff00ff" stroke-width="1.2"/>
</g>
<line x1="88.9" y1="279.5" x2="619.4" y2="279.5" stroke="#989898" stroke-width="1"/>
<g stroke-width="1"><line x1="104.5" y1="279.0" x2="104.5" y2="273.5" stroke="#999"/><line x1="184.8" y1="279.0" x2="184.8" y2="273.5" stroke="#999"/><line x1="265.1" y1="279.0" x2="265.1" y2="273.5" stroke="#999"/><line x1="345.4" y1="279.0" x2="345.4" y2="273.5" stroke="#999"/><line x1="425.7" y1="279.0" x2="425.7" y2="273.5" stroke="#ececec"/><line x1="88.9" y1="233.4" x2="94.9" y2="233.4" stroke="#ededed"/><line x1="88.9" y1="187.9" x2="94.9" y2="187.9" stroke="#555"/><line x1="88.9" y1="142.3" x2="94.9" y2="142.3" stroke="#555"/><line x1="88.9" y1="96.8" x2="94.9" y2="96.8" stroke="#e6e6e6"/><line x1="88.9" y1="51.2" x2="94.9" y2="51.2" stroke="#555"/></g>
<polyline points="100.5,200.8 118.6,208.7 124,227 129.4,253.3 156.5,262.3 181.8,267.1 208.6,272.2 227.6,272.2" fill="none" stroke="#0000ff" stroke-width="3.7" stroke-linejoin="round"/>
<g fill="none" stroke="#0000ff" stroke-width="1.3"><rect x="97.5" y="197.8" width="6" height="6"/><rect x="115.6" y="205.7" width="6" height="6"/><rect x="121.0" y="224.0" width="6" height="6"/><rect x="153.5" y="259.3" width="6" height="6"/><rect x="178.8" y="264.1" width="6" height="6"/><rect x="205.6" y="269.2" width="6" height="6"/><rect x="224.6" y="269.2" width="6" height="6"/></g>
<rect x="126.4" y="250.3" width="6" height="6" fill="#ff0000" stroke="#a00020" stroke-width="1"/>
<g class="tk"><text x="105.0" y="293.9" text-anchor="middle">1.3</text><text x="185.3" y="293.9" text-anchor="middle">1.35</text><text x="265.6" y="293.9" text-anchor="middle">1.4</text><text x="345.9" y="293.9" text-anchor="middle">1.45</text><text x="426.2" y="293.9" text-anchor="middle">1.5</text><text x="506.5" y="293.9" text-anchor="middle">1.55</text><text x="586.8" y="293.9" text-anchor="middle">1.6</text><text x="84.9" y="283.5" text-anchor="end">0.9</text><text x="84.9" y="237.9" text-anchor="end">1</text><text x="84.9" y="192.4" text-anchor="end">1.1</text><text x="84.9" y="146.8" text-anchor="end">1.2</text><text x="84.9" y="101.3" text-anchor="end">1.3</text><text x="84.9" y="55.7" text-anchor="end">1.4</text>
<text x="89.9" y="22.6" font-size="13" font-weight="normal">×</text><text x="98.4" y="22">10</text><text x="111.7" y="16.7" font-size="8.8">5</text>
<text x="592.1" y="312.9" font-size="13" font-weight="normal">×</text><text x="601.3" y="312.2">10</text><text x="614" y="306.7" font-size="8.8">7</text>
</g>
<text class="lb" x="292.9" y="17.5" textLength="36.9" lengthAdjust="spacingAndGlyphs">Speed</text>
<text class="lb rm" x="335.7" y="17.5" textLength="7.9" lengthAdjust="spacingAndGlyphs">=</text>
<text class="lb rm" x="348.5" y="17.5" textLength="66.2" lengthAdjust="spacingAndGlyphs">[0, 8](m/sec)</text>
<text class="lb" x="310.6" y="310.4" textLength="59" lengthAdjust="spacingAndGlyphs">Objective</text>
<text class="lb" x="373.5" y="310.4">-</text>
<text class="lb cal" x="382" y="308.6" style="font-size:12px">𝒥</text>
<text class="lb rm" x="393.6" y="306.9" style="font-size:8.5px">2</text>
<g transform="translate(63.4,195.2) rotate(-90)">
<text class="lb" x="0" y="0" textLength="59.5" lengthAdjust="spacingAndGlyphs">Objective</text>
<text class="lb" x="62.9" y="0">-</text>
<text class="lb cal" x="71.4" y="-1.8" style="font-size:12px">𝒥</text>
<text class="lb rm" x="83" y="-3.5" style="font-size:8.5px">1</text>
</g>
<rect x="451.5" y="24" width="167" height="54.2" fill="#fff" stroke="#000" stroke-width="1"/>
<line x1="452" y1="51.2" x2="618" y2="51.2" stroke="#e6e6e6" stroke-width="1"/>
<circle cx="459.7" cy="32.8" r="3.9" fill="#ff00ff"/>
<rect x="456.3" y="46.3" width="7.4" height="7.2" fill="#0000ff"/>
<circle cx="459.7" cy="65.8" r="3.8" fill="#ff0000"/>
<g class="lg">
<text x="465.9" y="36.3" fill="#ff00ff">Candidate Solution (Position)</text>
<text x="466.3" y="53.4" fill="#0000ff">Pareto-optimal Front</text>
<text x="465.6" y="69.2" fill="#ff0000">Best Compromise Solution</text>
</g>
</svg>
</body></html>
